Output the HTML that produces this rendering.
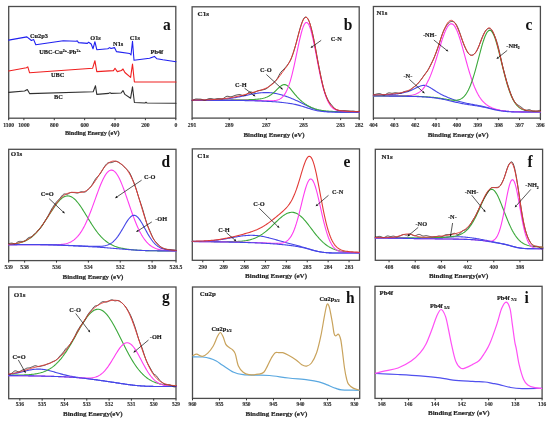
<!DOCTYPE html>
<html><head><meta charset="utf-8"><style>html,body{margin:0;padding:0;background:#fff;}svg{display:block;will-change:transform;filter:blur(0.3px);}text{font-family:"Liberation Serif",serif;font-weight:bold;}.h{stroke:#222;stroke-width:0.2px;}.t{stroke:#333;stroke-width:0.12px;}</style></head>
<body><svg width="550" height="421" viewBox="0 0 550 421">
<rect width="550" height="421" fill="#fff"/>
<rect x="8.70" y="6.50" width="167.10" height="111.70" fill="none" stroke="#4c4c4c" stroke-width="1.3"/>
<line x1="8.70" y1="118.20" x2="8.70" y2="120.20" stroke="#333" stroke-width="1.0"/>
<text x="8.70" y="126.80" text-anchor="middle" font-size="5.7" fill="#2a2a2a" class="t">1100</text>
<line x1="23.89" y1="118.20" x2="23.89" y2="120.20" stroke="#333" stroke-width="1.0"/>
<text x="23.89" y="126.80" text-anchor="middle" font-size="5.7" fill="#2a2a2a" class="t">1000</text>
<line x1="54.27" y1="118.20" x2="54.27" y2="120.20" stroke="#333" stroke-width="1.0"/>
<text x="54.27" y="126.80" text-anchor="middle" font-size="5.7" fill="#2a2a2a" class="t">800</text>
<line x1="84.65" y1="118.20" x2="84.65" y2="120.20" stroke="#333" stroke-width="1.0"/>
<text x="84.65" y="126.80" text-anchor="middle" font-size="5.7" fill="#2a2a2a" class="t">600</text>
<line x1="115.04" y1="118.20" x2="115.04" y2="120.20" stroke="#333" stroke-width="1.0"/>
<text x="115.04" y="126.80" text-anchor="middle" font-size="5.7" fill="#2a2a2a" class="t">400</text>
<line x1="145.42" y1="118.20" x2="145.42" y2="120.20" stroke="#333" stroke-width="1.0"/>
<text x="145.42" y="126.80" text-anchor="middle" font-size="5.7" fill="#2a2a2a" class="t">200</text>
<line x1="175.80" y1="118.20" x2="175.80" y2="120.20" stroke="#333" stroke-width="1.0"/>
<text x="175.80" y="126.80" text-anchor="middle" font-size="5.7" fill="#2a2a2a" class="t">0</text>
<text x="92.30" y="134.50" text-anchor="middle" font-size="6.4" textLength="54.8" lengthAdjust="spacingAndGlyphs" fill="#2a2a2a" class="h">Binding Energy (eV)</text>
<text transform="translate(162.90,29.80) scale(1,1.13)" font-size="15.5" fill="#111">a</text>
<rect x="192.10" y="6.80" width="167.10" height="111.30" fill="none" stroke="#4c4c4c" stroke-width="1.3"/>
<line x1="192.10" y1="118.10" x2="192.10" y2="120.10" stroke="#333" stroke-width="1.0"/>
<text x="192.10" y="126.70" text-anchor="middle" font-size="5.7" fill="#2a2a2a" class="t">291</text>
<line x1="229.23" y1="118.10" x2="229.23" y2="120.10" stroke="#333" stroke-width="1.0"/>
<text x="229.23" y="126.70" text-anchor="middle" font-size="5.7" fill="#2a2a2a" class="t">289</text>
<line x1="266.37" y1="118.10" x2="266.37" y2="120.10" stroke="#333" stroke-width="1.0"/>
<text x="266.37" y="126.70" text-anchor="middle" font-size="5.7" fill="#2a2a2a" class="t">287</text>
<line x1="303.50" y1="118.10" x2="303.50" y2="120.10" stroke="#333" stroke-width="1.0"/>
<text x="303.50" y="126.70" text-anchor="middle" font-size="5.7" fill="#2a2a2a" class="t">285</text>
<line x1="340.63" y1="118.10" x2="340.63" y2="120.10" stroke="#333" stroke-width="1.0"/>
<text x="340.63" y="126.70" text-anchor="middle" font-size="5.7" fill="#2a2a2a" class="t">283</text>
<line x1="359.20" y1="118.10" x2="359.20" y2="120.10" stroke="#333" stroke-width="1.0"/>
<text x="359.20" y="126.70" text-anchor="middle" font-size="5.7" fill="#2a2a2a" class="t">282</text>
<text x="274.00" y="136.90" text-anchor="middle" font-size="7" textLength="61" lengthAdjust="spacingAndGlyphs" fill="#2a2a2a" class="h">Binding Energy (eV)</text>
<text x="197.60" y="15.90" font-size="6.6" textLength="11.5" lengthAdjust="spacingAndGlyphs" fill="#1a1a1a" class="h">C1s</text>
<text transform="translate(343.70,29.90) scale(1,1.13)" font-size="15.5" fill="#111">b</text>
<rect x="373.40" y="6.50" width="167.00" height="111.60" fill="none" stroke="#4c4c4c" stroke-width="1.3"/>
<line x1="373.40" y1="118.10" x2="373.40" y2="120.10" stroke="#333" stroke-width="1.0"/>
<text x="373.40" y="126.70" text-anchor="middle" font-size="5.7" fill="#2a2a2a" class="t">404</text>
<line x1="394.27" y1="118.10" x2="394.27" y2="120.10" stroke="#333" stroke-width="1.0"/>
<text x="394.27" y="126.70" text-anchor="middle" font-size="5.7" fill="#2a2a2a" class="t">403</text>
<line x1="415.15" y1="118.10" x2="415.15" y2="120.10" stroke="#333" stroke-width="1.0"/>
<text x="415.15" y="126.70" text-anchor="middle" font-size="5.7" fill="#2a2a2a" class="t">402</text>
<line x1="436.02" y1="118.10" x2="436.02" y2="120.10" stroke="#333" stroke-width="1.0"/>
<text x="436.02" y="126.70" text-anchor="middle" font-size="5.7" fill="#2a2a2a" class="t">401</text>
<line x1="456.90" y1="118.10" x2="456.90" y2="120.10" stroke="#333" stroke-width="1.0"/>
<text x="456.90" y="126.70" text-anchor="middle" font-size="5.7" fill="#2a2a2a" class="t">400</text>
<line x1="477.77" y1="118.10" x2="477.77" y2="120.10" stroke="#333" stroke-width="1.0"/>
<text x="477.77" y="126.70" text-anchor="middle" font-size="5.7" fill="#2a2a2a" class="t">399</text>
<line x1="498.65" y1="118.10" x2="498.65" y2="120.10" stroke="#333" stroke-width="1.0"/>
<text x="498.65" y="126.70" text-anchor="middle" font-size="5.7" fill="#2a2a2a" class="t">398</text>
<line x1="519.52" y1="118.10" x2="519.52" y2="120.10" stroke="#333" stroke-width="1.0"/>
<text x="519.52" y="126.70" text-anchor="middle" font-size="5.7" fill="#2a2a2a" class="t">397</text>
<line x1="540.40" y1="118.10" x2="540.40" y2="120.10" stroke="#333" stroke-width="1.0"/>
<text x="540.40" y="126.70" text-anchor="middle" font-size="5.7" fill="#2a2a2a" class="t">396</text>
<text x="458.10" y="136.60" text-anchor="middle" font-size="7" textLength="60.7" lengthAdjust="spacingAndGlyphs" fill="#2a2a2a" class="h">Binding Energy (eV)</text>
<text x="376.50" y="15.20" font-size="6.6" textLength="10.8" lengthAdjust="spacingAndGlyphs" fill="#1a1a1a" class="h">N1s</text>
<text transform="translate(525.50,29.50) scale(1,1.13)" font-size="15.5" fill="#111">c</text>
<rect x="8.70" y="149.30" width="167.30" height="111.30" fill="none" stroke="#4c4c4c" stroke-width="1.3"/>
<line x1="8.70" y1="260.60" x2="8.70" y2="262.60" stroke="#333" stroke-width="1.0"/>
<text x="8.70" y="269.20" text-anchor="middle" font-size="5.7" fill="#2a2a2a" class="t">539</text>
<line x1="24.63" y1="260.60" x2="24.63" y2="262.60" stroke="#333" stroke-width="1.0"/>
<text x="24.63" y="269.20" text-anchor="middle" font-size="5.7" fill="#2a2a2a" class="t">538</text>
<line x1="56.50" y1="260.60" x2="56.50" y2="262.60" stroke="#333" stroke-width="1.0"/>
<text x="56.50" y="269.20" text-anchor="middle" font-size="5.7" fill="#2a2a2a" class="t">536</text>
<line x1="88.37" y1="260.60" x2="88.37" y2="262.60" stroke="#333" stroke-width="1.0"/>
<text x="88.37" y="269.20" text-anchor="middle" font-size="5.7" fill="#2a2a2a" class="t">534</text>
<line x1="120.23" y1="260.60" x2="120.23" y2="262.60" stroke="#333" stroke-width="1.0"/>
<text x="120.23" y="269.20" text-anchor="middle" font-size="5.7" fill="#2a2a2a" class="t">532</text>
<line x1="152.10" y1="260.60" x2="152.10" y2="262.60" stroke="#333" stroke-width="1.0"/>
<text x="152.10" y="269.20" text-anchor="middle" font-size="5.7" fill="#2a2a2a" class="t">530</text>
<line x1="176.00" y1="260.60" x2="176.00" y2="262.60" stroke="#333" stroke-width="1.0"/>
<text x="176.00" y="269.20" text-anchor="middle" font-size="5.7" fill="#2a2a2a" class="t">528.5</text>
<text x="93.00" y="278.90" text-anchor="middle" font-size="7" textLength="60.8" lengthAdjust="spacingAndGlyphs" fill="#2a2a2a" class="h">Binding Energy (eV)</text>
<text x="10.80" y="156.00" font-size="6.6" textLength="11.5" lengthAdjust="spacingAndGlyphs" fill="#1a1a1a" class="h">O1s</text>
<text transform="translate(161.60,166.80) scale(1,1.13)" font-size="15.5" fill="#111">d</text>
<rect x="192.30" y="148.90" width="167.20" height="111.40" fill="none" stroke="#4c4c4c" stroke-width="1.3"/>
<line x1="202.75" y1="260.30" x2="202.75" y2="262.30" stroke="#333" stroke-width="1.0"/>
<text x="202.75" y="268.90" text-anchor="middle" font-size="5.7" fill="#2a2a2a" class="t">290</text>
<line x1="223.65" y1="260.30" x2="223.65" y2="262.30" stroke="#333" stroke-width="1.0"/>
<text x="223.65" y="268.90" text-anchor="middle" font-size="5.7" fill="#2a2a2a" class="t">289</text>
<line x1="244.55" y1="260.30" x2="244.55" y2="262.30" stroke="#333" stroke-width="1.0"/>
<text x="244.55" y="268.90" text-anchor="middle" font-size="5.7" fill="#2a2a2a" class="t">288</text>
<line x1="265.45" y1="260.30" x2="265.45" y2="262.30" stroke="#333" stroke-width="1.0"/>
<text x="265.45" y="268.90" text-anchor="middle" font-size="5.7" fill="#2a2a2a" class="t">287</text>
<line x1="286.35" y1="260.30" x2="286.35" y2="262.30" stroke="#333" stroke-width="1.0"/>
<text x="286.35" y="268.90" text-anchor="middle" font-size="5.7" fill="#2a2a2a" class="t">286</text>
<line x1="307.25" y1="260.30" x2="307.25" y2="262.30" stroke="#333" stroke-width="1.0"/>
<text x="307.25" y="268.90" text-anchor="middle" font-size="5.7" fill="#2a2a2a" class="t">285</text>
<line x1="328.15" y1="260.30" x2="328.15" y2="262.30" stroke="#333" stroke-width="1.0"/>
<text x="328.15" y="268.90" text-anchor="middle" font-size="5.7" fill="#2a2a2a" class="t">284</text>
<line x1="349.05" y1="260.30" x2="349.05" y2="262.30" stroke="#333" stroke-width="1.0"/>
<text x="349.05" y="268.90" text-anchor="middle" font-size="5.7" fill="#2a2a2a" class="t">283</text>
<text x="276.00" y="277.90" text-anchor="middle" font-size="7" textLength="62" lengthAdjust="spacingAndGlyphs" fill="#2a2a2a" class="h">Binding Energy (eV)</text>
<text x="197.30" y="157.50" font-size="6.6" textLength="11.5" lengthAdjust="spacingAndGlyphs" fill="#1a1a1a" class="h">C1s</text>
<text transform="translate(343.40,166.90) scale(1,1.13)" font-size="15.5" fill="#111">e</text>
<rect x="375.30" y="149.30" width="167.30" height="111.00" fill="none" stroke="#4c4c4c" stroke-width="1.3"/>
<line x1="389.05" y1="260.30" x2="389.05" y2="262.30" stroke="#333" stroke-width="1.0"/>
<text x="389.05" y="268.90" text-anchor="middle" font-size="5.7" fill="#2a2a2a" class="t">408</text>
<line x1="415.23" y1="260.30" x2="415.23" y2="262.30" stroke="#333" stroke-width="1.0"/>
<text x="415.23" y="268.90" text-anchor="middle" font-size="5.7" fill="#2a2a2a" class="t">406</text>
<line x1="441.41" y1="260.30" x2="441.41" y2="262.30" stroke="#333" stroke-width="1.0"/>
<text x="441.41" y="268.90" text-anchor="middle" font-size="5.7" fill="#2a2a2a" class="t">404</text>
<line x1="467.59" y1="260.30" x2="467.59" y2="262.30" stroke="#333" stroke-width="1.0"/>
<text x="467.59" y="268.90" text-anchor="middle" font-size="5.7" fill="#2a2a2a" class="t">402</text>
<line x1="493.77" y1="260.30" x2="493.77" y2="262.30" stroke="#333" stroke-width="1.0"/>
<text x="493.77" y="268.90" text-anchor="middle" font-size="5.7" fill="#2a2a2a" class="t">400</text>
<line x1="519.95" y1="260.30" x2="519.95" y2="262.30" stroke="#333" stroke-width="1.0"/>
<text x="519.95" y="268.90" text-anchor="middle" font-size="5.7" fill="#2a2a2a" class="t">398</text>
<text x="458.70" y="277.90" text-anchor="middle" font-size="7" textLength="59.4" lengthAdjust="spacingAndGlyphs" fill="#2a2a2a" class="h">Binding Energy(eV)</text>
<text x="381.50" y="159.30" font-size="6.6" textLength="11.2" lengthAdjust="spacingAndGlyphs" fill="#1a1a1a" class="h">N1s</text>
<text transform="translate(527.40,166.80) scale(1,1.13)" font-size="15.5" fill="#111">f</text>
<rect x="8.70" y="287.00" width="167.30" height="111.70" fill="none" stroke="#4c4c4c" stroke-width="1.3"/>
<line x1="19.85" y1="398.70" x2="19.85" y2="400.70" stroke="#333" stroke-width="1.0"/>
<text x="19.85" y="406.30" text-anchor="middle" font-size="5.4" fill="#2a2a2a" class="t">536</text>
<line x1="42.16" y1="398.70" x2="42.16" y2="400.70" stroke="#333" stroke-width="1.0"/>
<text x="42.16" y="406.30" text-anchor="middle" font-size="5.4" fill="#2a2a2a" class="t">535</text>
<line x1="64.47" y1="398.70" x2="64.47" y2="400.70" stroke="#333" stroke-width="1.0"/>
<text x="64.47" y="406.30" text-anchor="middle" font-size="5.4" fill="#2a2a2a" class="t">534</text>
<line x1="86.77" y1="398.70" x2="86.77" y2="400.70" stroke="#333" stroke-width="1.0"/>
<text x="86.77" y="406.30" text-anchor="middle" font-size="5.4" fill="#2a2a2a" class="t">533</text>
<line x1="109.08" y1="398.70" x2="109.08" y2="400.70" stroke="#333" stroke-width="1.0"/>
<text x="109.08" y="406.30" text-anchor="middle" font-size="5.4" fill="#2a2a2a" class="t">532</text>
<line x1="131.39" y1="398.70" x2="131.39" y2="400.70" stroke="#333" stroke-width="1.0"/>
<text x="131.39" y="406.30" text-anchor="middle" font-size="5.4" fill="#2a2a2a" class="t">531</text>
<line x1="153.69" y1="398.70" x2="153.69" y2="400.70" stroke="#333" stroke-width="1.0"/>
<text x="153.69" y="406.30" text-anchor="middle" font-size="5.4" fill="#2a2a2a" class="t">530</text>
<line x1="176.00" y1="398.70" x2="176.00" y2="400.70" stroke="#333" stroke-width="1.0"/>
<text x="176.00" y="406.30" text-anchor="middle" font-size="5.4" fill="#2a2a2a" class="t">529</text>
<text x="92.80" y="415.90" text-anchor="middle" font-size="7" textLength="59.6" lengthAdjust="spacingAndGlyphs" fill="#2a2a2a" class="h">Binding Energy(eV)</text>
<text x="13.70" y="296.90" font-size="6.6" textLength="11.7" lengthAdjust="spacingAndGlyphs" fill="#1a1a1a" class="h">O1s</text>
<text transform="translate(162.00,301.50) scale(1,1.13)" font-size="15.5" fill="#111">g</text>
<rect x="192.50" y="287.00" width="167.20" height="111.40" fill="none" stroke="#4c4c4c" stroke-width="1.3"/>
<line x1="192.50" y1="398.40" x2="192.50" y2="400.40" stroke="#333" stroke-width="1.0"/>
<text x="192.50" y="406.00" text-anchor="middle" font-size="5.4" fill="#2a2a2a" class="t">960</text>
<line x1="219.50" y1="398.40" x2="219.50" y2="400.40" stroke="#333" stroke-width="1.0"/>
<text x="219.50" y="406.00" text-anchor="middle" font-size="5.4" fill="#2a2a2a" class="t">955</text>
<line x1="246.51" y1="398.40" x2="246.51" y2="400.40" stroke="#333" stroke-width="1.0"/>
<text x="246.51" y="406.00" text-anchor="middle" font-size="5.4" fill="#2a2a2a" class="t">950</text>
<line x1="273.51" y1="398.40" x2="273.51" y2="400.40" stroke="#333" stroke-width="1.0"/>
<text x="273.51" y="406.00" text-anchor="middle" font-size="5.4" fill="#2a2a2a" class="t">945</text>
<line x1="300.51" y1="398.40" x2="300.51" y2="400.40" stroke="#333" stroke-width="1.0"/>
<text x="300.51" y="406.00" text-anchor="middle" font-size="5.4" fill="#2a2a2a" class="t">940</text>
<line x1="327.51" y1="398.40" x2="327.51" y2="400.40" stroke="#333" stroke-width="1.0"/>
<text x="327.51" y="406.00" text-anchor="middle" font-size="5.4" fill="#2a2a2a" class="t">935</text>
<line x1="354.52" y1="398.40" x2="354.52" y2="400.40" stroke="#333" stroke-width="1.0"/>
<text x="354.52" y="406.00" text-anchor="middle" font-size="5.4" fill="#2a2a2a" class="t">930</text>
<text x="276.40" y="415.90" text-anchor="middle" font-size="7" textLength="61.8" lengthAdjust="spacingAndGlyphs" fill="#2a2a2a" class="h">Binding Energy (eV)</text>
<text x="199.80" y="295.80" font-size="6.6" textLength="16" lengthAdjust="spacingAndGlyphs" fill="#1a1a1a" class="h">Cu2p</text>
<text transform="translate(346.10,302.90) scale(1,1.13)" font-size="15.5" fill="#111">h</text>
<rect x="375.00" y="286.30" width="167.10" height="112.10" fill="none" stroke="#4c4c4c" stroke-width="1.3"/>
<line x1="381.68" y1="398.40" x2="381.68" y2="400.40" stroke="#333" stroke-width="1.0"/>
<text x="381.68" y="406.00" text-anchor="middle" font-size="5.4" fill="#2a2a2a" class="t">148</text>
<line x1="408.42" y1="398.40" x2="408.42" y2="400.40" stroke="#333" stroke-width="1.0"/>
<text x="408.42" y="406.00" text-anchor="middle" font-size="5.4" fill="#2a2a2a" class="t">146</text>
<line x1="435.16" y1="398.40" x2="435.16" y2="400.40" stroke="#333" stroke-width="1.0"/>
<text x="435.16" y="406.00" text-anchor="middle" font-size="5.4" fill="#2a2a2a" class="t">144</text>
<line x1="461.89" y1="398.40" x2="461.89" y2="400.40" stroke="#333" stroke-width="1.0"/>
<text x="461.89" y="406.00" text-anchor="middle" font-size="5.4" fill="#2a2a2a" class="t">142</text>
<line x1="488.63" y1="398.40" x2="488.63" y2="400.40" stroke="#333" stroke-width="1.0"/>
<text x="488.63" y="406.00" text-anchor="middle" font-size="5.4" fill="#2a2a2a" class="t">140</text>
<line x1="515.36" y1="398.40" x2="515.36" y2="400.40" stroke="#333" stroke-width="1.0"/>
<text x="515.36" y="406.00" text-anchor="middle" font-size="5.4" fill="#2a2a2a" class="t">138</text>
<line x1="542.10" y1="398.40" x2="542.10" y2="400.40" stroke="#333" stroke-width="1.0"/>
<text x="542.10" y="406.00" text-anchor="middle" font-size="5.4" fill="#2a2a2a" class="t">136</text>
<text x="458.75" y="414.70" text-anchor="middle" font-size="7" textLength="61.5" lengthAdjust="spacingAndGlyphs" fill="#2a2a2a" class="h">Binding Energy (eV)</text>
<text x="379.60" y="294.60" font-size="6.6" textLength="13.5" lengthAdjust="spacingAndGlyphs" fill="#1a1a1a" class="h">Pb4f</text>
<text transform="translate(524.50,302.90) scale(1,1.13)" font-size="15.5" fill="#111">i</text>
<polyline points="8.70,40.10 26.90,36.90 31.40,40.50 33.70,39.60 35.80,44.80 63.20,40.80 76.30,41.20 77.20,40.70 78.50,42.60 87.40,43.40 88.60,42.20 91.20,44.00 93.00,48.80 94.90,41.70 96.80,49.70 107.80,48.80 109.70,47.60 111.00,48.50 114.50,47.60 116.40,51.60 129.70,53.50 131.00,55.00 132.50,41.20 134.00,60.20 149.60,58.30 154.40,56.40 157.00,58.80 162.90,59.80 176.00,61.70" fill="none" stroke="#2020f0" stroke-width="1.1" stroke-linejoin="round" stroke-linecap="round"/>
<polyline points="8.70,71.00 26.40,67.80 27.80,66.90 29.60,72.80 92.60,68.30 94.90,60.70 96.80,71.60 113.50,70.60 115.00,68.30 117.30,71.60 121.50,70.50 123.00,69.00 124.90,72.50 130.60,77.30 132.50,64.00 134.40,82.00 176.00,82.00" fill="none" stroke="#f02020" stroke-width="1.1" stroke-linejoin="round" stroke-linecap="round"/>
<polyline points="8.70,92.40 24.60,91.00 27.30,89.50 29.60,93.60 93.20,91.80 95.50,85.80 96.80,94.40 108.80,93.40 110.00,92.60 111.00,93.40 121.10,93.00 123.00,90.60 124.90,94.40 130.60,98.20 132.50,86.80 134.40,102.50 145.00,103.00 146.00,102.30 147.00,103.00 176.00,103.30" fill="none" stroke="#303030" stroke-width="1.1" stroke-linejoin="round" stroke-linecap="round"/>
<text x="30.00" y="38.20" text-anchor="start" font-size="6.3" fill="#222" class="h">Cu2p3</text>
<text x="39.20" y="54.30" text-anchor="start" font-size="6.3" fill="#222" class="h">UBC-Cu<tspan dy="-2.2" font-size="4">2+</tspan><tspan dy="2.2">-Pb</tspan><tspan dy="-2.2" font-size="4">2+</tspan></text>
<text x="51.00" y="76.70" text-anchor="start" font-size="6.3" fill="#222" class="h">UBC</text>
<text x="54.00" y="99.30" text-anchor="start" font-size="6.3" fill="#222" class="h">BC</text>
<text x="90.30" y="40.10" text-anchor="start" font-size="6.3" fill="#222" class="h">O1s</text>
<text x="113.10" y="46.20" text-anchor="start" font-size="6.3" fill="#222" class="h">N1s</text>
<text x="129.70" y="39.60" text-anchor="start" font-size="6.3" fill="#222" class="h">C1s</text>
<text x="150.60" y="53.80" text-anchor="start" font-size="6.3" fill="#222" class="h">Pb4f</text>
<polyline points="192.10,100.38 193.10,100.37 194.10,100.36 195.10,100.36 196.10,100.35 197.10,100.34 198.10,100.32 199.10,100.31 200.10,100.30 201.10,100.28 202.10,100.27 203.10,100.25 204.10,100.23 205.10,100.21 206.10,100.19 207.10,100.16 208.10,100.14 209.10,100.11 210.10,100.07 211.10,100.04 212.10,100.00 213.10,99.95 214.10,99.91 215.10,99.86 216.10,99.80 217.10,99.74 218.10,99.68 219.10,99.61 220.10,99.53 221.10,99.45 222.10,99.36 223.10,99.27 224.10,99.17 225.10,99.06 226.10,98.95 227.10,98.83 228.10,98.70 229.10,98.57 230.10,98.43 231.10,98.28 232.10,98.12 233.10,97.96 234.10,97.79 235.10,97.62 236.10,97.44 237.10,97.25 238.10,97.06 239.10,96.86 240.10,96.66 241.10,96.45 242.10,96.24 243.10,96.03 244.10,95.81 245.10,95.60 246.10,95.38 247.10,95.17 248.10,94.95 249.10,94.74 250.10,94.54 251.10,94.33 252.10,94.14 253.10,93.95 254.10,93.77 255.10,93.59 256.10,93.43 257.10,93.28 258.10,93.14 259.10,93.02 260.10,92.90 261.10,92.81 262.10,92.73 263.10,92.66 264.10,92.61 265.10,92.59 266.10,92.57 267.10,92.58 268.10,92.61 269.10,92.66 270.10,92.72 271.10,92.81 272.10,92.91 273.10,93.04 274.10,93.19 275.10,93.36 276.10,93.54 277.10,93.75 278.10,93.97 279.10,94.21 280.10,94.48 281.10,94.75 282.10,95.05 283.10,95.36 284.10,95.68 285.10,96.01 286.10,96.36 287.10,96.72 288.10,97.09 289.10,97.47 290.10,97.86 291.10,98.25 292.10,98.66 293.10,99.08 294.10,99.50 295.10,99.94 296.10,100.39 297.10,100.85 298.10,101.31 299.10,101.79 300.10,102.28 301.10,102.77 302.10,103.27 303.10,103.77 304.10,104.28 305.10,104.78 306.10,105.28 307.10,105.78 308.10,106.26 309.10,106.74 310.10,107.19 311.10,107.63 312.10,108.05 313.10,108.45 314.10,108.82 315.10,109.17 316.10,109.49 317.10,109.79 318.10,110.06 319.10,110.31 320.10,110.53 321.10,110.73 322.10,110.91 323.10,111.07 324.10,111.21 325.10,111.33 326.10,111.44 327.10,111.53 328.10,111.62 329.10,111.69 330.10,111.75 331.10,111.81 332.10,111.85 333.10,111.90 334.10,111.93 335.10,111.96 336.10,111.99 337.10,112.02 338.10,112.04 339.10,112.06 340.10,112.08 341.10,112.10 342.10,112.11 343.10,112.13 344.10,112.14 345.10,112.15 346.10,112.16 347.10,112.18 348.10,112.19 349.10,112.20 350.10,112.20 351.10,112.21 352.10,112.22 353.10,112.23 354.10,112.24 355.10,112.25 356.10,112.25 357.10,112.26 358.10,112.27 359.10,112.28 359.35,112.28" fill="none" stroke="#4646e6" stroke-width="1.1" stroke-linejoin="round" stroke-linecap="round"/>
<polyline points="192.10,100.24 193.10,100.23 194.10,100.23 195.10,100.22 196.10,100.21 197.10,100.20 198.10,100.20 199.10,100.19 200.10,100.18 201.10,100.17 202.10,100.17 203.10,100.16 204.10,100.15 205.10,100.14 206.10,100.14 207.10,100.13 208.10,100.12 209.10,100.11 210.10,100.10 211.10,100.10 212.10,100.09 213.10,100.08 214.10,100.07 215.10,100.06 216.10,100.06 217.10,100.05 218.10,100.04 219.10,100.03 220.10,100.02 221.10,100.01 222.10,100.01 223.10,100.00 224.10,99.99 225.10,99.98 226.10,99.97 227.10,99.96 228.10,99.95 229.10,99.94 230.10,99.93 231.10,99.92 232.10,99.91 233.10,99.90 234.10,99.89 235.10,99.88 236.10,99.87 237.10,99.86 238.10,99.85 239.10,99.84 240.10,99.83 241.10,99.81 242.10,99.80 243.10,99.78 244.10,99.76 245.10,99.75 246.10,99.72 247.10,99.70 248.10,99.68 249.10,99.65 250.10,99.62 251.10,99.58 252.10,99.54 253.10,99.49 254.10,99.44 255.10,99.38 256.10,99.30 257.10,99.22 258.10,99.12 259.10,99.00 260.10,98.86 261.10,98.69 262.10,98.50 263.10,98.27 264.10,98.01 265.10,97.70 266.10,97.34 267.10,96.93 268.10,96.46 269.10,95.93 270.10,95.33 271.10,94.67 272.10,93.94 273.10,93.14 274.10,92.28 275.10,91.37 276.10,90.42 277.10,89.43 278.10,88.45 279.10,87.49 280.10,86.59 281.10,85.81 282.10,85.17 283.10,84.74 284.10,84.55 285.10,84.62 286.10,84.95 287.10,85.54 288.10,86.34 289.10,87.32 290.10,88.42 291.10,89.61 292.10,90.85 293.10,92.10 294.10,93.34 295.10,94.55 296.10,95.72 297.10,96.84 298.10,97.90 299.10,98.91 300.10,99.87 301.10,100.77 302.10,101.62 303.10,102.41 304.10,103.16 305.10,103.87 306.10,104.53 307.10,105.14 308.10,105.72 309.10,106.27 310.10,106.77 311.10,107.25 312.10,107.69 313.10,108.09 314.10,108.47 315.10,108.82 316.10,109.13 317.10,109.42 318.10,109.68 319.10,109.92 320.10,110.13 321.10,110.32 322.10,110.49 323.10,110.64 324.10,110.78 325.10,110.89 326.10,111.00 327.10,111.09 328.10,111.17 329.10,111.24 330.10,111.31 331.10,111.36 332.10,111.41 333.10,111.46 334.10,111.50 335.10,111.54 336.10,111.57 337.10,111.60 338.10,111.63 339.10,111.66 340.10,111.69 341.10,111.71 342.10,111.73 343.10,111.76 344.10,111.78 345.10,111.80 346.10,111.82 347.10,111.84 348.10,111.85 349.10,111.87 350.10,111.89 351.10,111.91 352.10,111.92 353.10,111.94 354.10,111.95 355.10,111.97 356.10,111.98 357.10,112.00 358.10,112.01 359.10,112.02 359.35,112.03" fill="none" stroke="#3aa83a" stroke-width="1.1" stroke-linejoin="round" stroke-linecap="round"/>
<polyline points="192.10,100.34 193.10,100.34 194.10,100.33 195.10,100.33 196.10,100.32 197.10,100.32 198.10,100.31 199.10,100.31 200.10,100.30 201.10,100.30 202.10,100.29 203.10,100.29 204.10,100.29 205.10,100.28 206.10,100.28 207.10,100.27 208.10,100.27 209.10,100.27 210.10,100.26 211.10,100.26 212.10,100.26 213.10,100.26 214.10,100.25 215.10,100.25 216.10,100.25 217.10,100.25 218.10,100.24 219.10,100.24 220.10,100.24 221.10,100.24 222.10,100.24 223.10,100.24 224.10,100.24 225.10,100.24 226.10,100.24 227.10,100.24 228.10,100.24 229.10,100.25 230.10,100.25 231.10,100.25 232.10,100.26 233.10,100.26 234.10,100.27 235.10,100.27 236.10,100.28 237.10,100.29 238.10,100.29 239.10,100.30 240.10,100.31 241.10,100.32 242.10,100.33 243.10,100.34 244.10,100.36 245.10,100.37 246.10,100.38 247.10,100.40 248.10,100.41 249.10,100.43 250.10,100.45 251.10,100.46 252.10,100.48 253.10,100.50 254.10,100.52 255.10,100.54 256.10,100.56 257.10,100.58 258.10,100.61 259.10,100.63 260.10,100.65 261.10,100.67 262.10,100.69 263.10,100.72 264.10,100.74 265.10,100.76 266.10,100.77 267.10,100.79 268.10,100.80 269.10,100.80 270.10,100.80 271.10,100.78 272.10,100.75 273.10,100.70 274.10,100.61 275.10,100.49 276.10,100.33 277.10,100.10 278.10,99.79 279.10,99.39 280.10,98.87 281.10,98.22 282.10,97.40 283.10,96.38 284.10,95.14 285.10,93.65 286.10,91.88 287.10,89.81 288.10,87.40 289.10,84.65 290.10,81.55 291.10,78.09 292.10,74.30 293.10,70.20 294.10,65.82 295.10,61.23 296.10,56.48 297.10,51.67 298.10,46.88 299.10,42.23 300.10,37.81 301.10,33.75 302.10,30.16 303.10,27.15 304.10,24.81 305.10,23.23 306.10,22.46 307.10,22.56 308.10,23.51 309.10,25.29 310.10,27.86 311.10,31.14 312.10,35.02 313.10,39.41 314.10,44.19 315.10,49.24 316.10,54.45 317.10,59.71 318.10,64.92 319.10,69.99 320.10,74.85 321.10,79.43 322.10,83.70 323.10,87.62 324.10,91.16 325.10,94.34 326.10,97.15 327.10,99.60 328.10,101.72 329.10,103.53 330.10,105.06 331.10,106.34 332.10,107.40 333.10,108.27 334.10,108.98 335.10,109.55 336.10,110.01 337.10,110.38 338.10,110.67 339.10,110.90 340.10,111.08 341.10,111.22 342.10,111.34 343.10,111.43 344.10,111.51 345.10,111.57 346.10,111.62 347.10,111.67 348.10,111.71 349.10,111.74 350.10,111.77 351.10,111.80 352.10,111.83 353.10,111.85 354.10,111.87 355.10,111.89 356.10,111.92 357.10,111.94 358.10,111.95 359.10,111.97 359.35,111.98" fill="none" stroke="#ff3cf0" stroke-width="1.1" stroke-linejoin="round" stroke-linecap="round"/>
<polyline points="192.10,100.41 193.10,100.40 194.10,100.40 195.10,100.40 196.10,100.39 197.10,100.39 198.10,100.39 199.10,100.38 200.10,100.38 201.10,100.38 202.10,100.37 203.10,100.37 204.10,100.37 205.10,100.37 206.10,100.36 207.10,100.36 208.10,100.36 209.10,100.36 210.10,100.36 211.10,100.36 212.10,100.35 213.10,100.35 214.10,100.35 215.10,100.35 216.10,100.35 217.10,100.35 218.10,100.35 219.10,100.35 220.10,100.36 221.10,100.36 222.10,100.36 223.10,100.36 224.10,100.37 225.10,100.37 226.10,100.37 227.10,100.38 228.10,100.38 229.10,100.39 230.10,100.40 231.10,100.40 232.10,100.41 233.10,100.42 234.10,100.43 235.10,100.44 236.10,100.45 237.10,100.46 238.10,100.48 239.10,100.49 240.10,100.50 241.10,100.52 242.10,100.54 243.10,100.55 244.10,100.57 245.10,100.59 246.10,100.61 247.10,100.64 248.10,100.66 249.10,100.68 250.10,100.71 251.10,100.74 252.10,100.76 253.10,100.79 254.10,100.82 255.10,100.85 256.10,100.89 257.10,100.92 258.10,100.96 259.10,100.99 260.10,101.03 261.10,101.07 262.10,101.11 263.10,101.15 264.10,101.19 265.10,101.24 266.10,101.28 267.10,101.33 268.10,101.38 269.10,101.44 270.10,101.49 271.10,101.55 272.10,101.61 273.10,101.68 274.10,101.74 275.10,101.82 276.10,101.89 277.10,101.97 278.10,102.06 279.10,102.15 280.10,102.24 281.10,102.34 282.10,102.45 283.10,102.56 284.10,102.68 285.10,102.80 286.10,102.93 287.10,103.06 288.10,103.20 289.10,103.35 290.10,103.50 291.10,103.66 292.10,103.83 293.10,104.01 294.10,104.20 295.10,104.41 296.10,104.62 297.10,104.86 298.10,105.10 299.10,105.36 300.10,105.64 301.10,105.93 302.10,106.23 303.10,106.54 304.10,106.87 305.10,107.19 306.10,107.53 307.10,107.86 308.10,108.19 309.10,108.52 310.10,108.84 311.10,109.15 312.10,109.44 313.10,109.72 314.10,109.99 315.10,110.24 316.10,110.46 317.10,110.67 318.10,110.86 319.10,111.04 320.10,111.19 321.10,111.32 322.10,111.44 323.10,111.55 324.10,111.64 325.10,111.72 326.10,111.79 327.10,111.84 328.10,111.89 329.10,111.93 330.10,111.97 331.10,112.00 332.10,112.02 333.10,112.05 334.10,112.06 335.10,112.08 336.10,112.09 337.10,112.11 338.10,112.12 339.10,112.13 340.10,112.14 341.10,112.15 342.10,112.16 343.10,112.17 344.10,112.17 345.10,112.18 346.10,112.19 347.10,112.20 348.10,112.20 349.10,112.21 350.10,112.22 351.10,112.22 352.10,112.23 353.10,112.24 354.10,112.25 355.10,112.25 356.10,112.26 357.10,112.27 358.10,112.27 359.10,112.28 359.35,112.28" fill="none" stroke="#4646e6" stroke-width="1.1" stroke-linejoin="round" stroke-linecap="round"/>
<polyline points="192.10,100.42 193.10,100.13 194.10,99.62 195.10,99.18 196.10,99.00 197.10,99.02 198.10,99.09 199.10,99.11 200.10,99.12 201.10,99.22 202.10,99.54 203.10,99.99 204.10,100.34 205.10,100.32 206.10,99.93 207.10,99.37 208.10,98.91 209.10,98.67 210.10,98.59 211.10,98.61 212.10,98.76 213.10,99.01 214.10,99.16 215.10,99.08 216.10,98.84 217.10,98.66 218.10,98.59 219.10,98.58 220.10,98.64 221.10,98.79 222.10,98.85 223.10,98.60 224.10,97.98 225.10,97.20 226.10,96.56 227.10,96.25 228.10,96.32 229.10,96.60 230.10,96.81 231.10,96.78 232.10,96.53 233.10,96.18 234.10,95.79 235.10,95.40 236.10,95.11 237.10,94.90 238.10,94.72 239.10,94.58 240.10,94.62 241.10,94.93 242.10,95.38 243.10,95.71 244.10,95.74 245.10,95.40 246.10,94.73 247.10,93.85 248.10,92.95 249.10,92.24 250.10,91.90 251.10,91.99 252.10,92.32 253.10,92.56 254.10,92.50 255.10,92.13 256.10,91.58 257.10,91.04 258.10,90.65 259.10,90.44 260.10,90.36 261.10,90.23 262.10,90.00 263.10,89.75 264.10,89.54 265.10,89.28 266.10,88.84 267.10,88.18 268.10,87.33 269.10,86.41 270.10,85.50 271.10,84.67 272.10,83.87 273.10,83.07 274.10,82.22 275.10,81.30 276.10,80.23 277.10,78.86 278.10,77.12 279.10,75.18 280.10,73.40 281.10,72.00 282.10,70.89 283.10,69.89 284.10,68.87 285.10,67.80 286.10,66.67 287.10,65.42 288.10,64.06 289.10,62.59 290.10,60.93 291.10,58.90 292.10,56.33 293.10,53.37 294.10,50.23 295.10,46.96 296.10,43.41 297.10,39.55 298.10,35.59 299.10,31.79 300.10,28.26 301.10,25.01 302.10,22.10 303.10,19.73 304.10,18.06 305.10,17.17 306.10,17.08 307.10,17.78 308.10,19.22 309.10,21.34 310.10,24.13 311.10,27.54 312.10,31.44 313.10,35.77 314.10,40.52 315.10,45.73 316.10,51.30 317.10,56.95 318.10,62.41 319.10,67.59 320.10,72.57 321.10,77.45 322.10,82.18 323.10,86.50 324.10,90.18 325.10,93.23 326.10,95.83 327.10,98.14 328.10,100.15 329.10,101.80 330.10,103.12 331.10,104.30 332.10,105.54 333.10,106.83 334.10,107.99 335.10,108.87 336.10,109.47 337.10,109.91 338.10,110.25 339.10,110.50 340.10,110.65 341.10,110.68 342.10,110.63 343.10,110.57 344.10,110.56 345.10,110.62 346.10,110.72 347.10,110.80 348.10,110.86 349.10,110.96 350.10,111.06 351.10,111.10 352.10,111.06 353.10,111.04 354.10,111.16 355.10,111.39 356.10,111.57 357.10,111.55 358.10,111.40 359.10,111.27 359.35,111.20" fill="none" stroke="#2a2020" stroke-width="0.8" stroke-linejoin="round" stroke-linecap="round"/>
<polyline points="192.10,100.15 193.10,100.14 194.10,100.12 195.10,100.11 196.10,100.10 197.10,100.08 198.10,100.06 199.10,100.04 200.10,100.03 201.10,100.01 202.10,99.98 203.10,99.96 204.10,99.93 205.10,99.91 206.10,99.88 207.10,99.84 208.10,99.81 209.10,99.77 210.10,99.73 211.10,99.68 212.10,99.63 213.10,99.58 214.10,99.53 215.10,99.46 216.10,99.40 217.10,99.33 218.10,99.25 219.10,99.17 220.10,99.08 221.10,98.99 222.10,98.89 223.10,98.78 224.10,98.67 225.10,98.54 226.10,98.41 227.10,98.28 228.10,98.13 229.10,97.98 230.10,97.82 231.10,97.65 232.10,97.47 233.10,97.29 234.10,97.10 235.10,96.90 236.10,96.69 237.10,96.47 238.10,96.25 239.10,96.02 240.10,95.79 241.10,95.54 242.10,95.30 243.10,95.04 244.10,94.79 245.10,94.53 246.10,94.26 247.10,94.00 248.10,93.73 249.10,93.45 250.10,93.18 251.10,92.91 252.10,92.64 253.10,92.36 254.10,92.08 255.10,91.81 256.10,91.53 257.10,91.24 258.10,90.96 259.10,90.66 260.10,90.36 261.10,90.04 262.10,89.70 263.10,89.35 264.10,88.97 265.10,88.56 266.10,88.12 267.10,87.63 268.10,87.10 269.10,86.51 270.10,85.87 271.10,85.16 272.10,84.38 273.10,83.53 274.10,82.60 275.10,81.59 276.10,80.50 277.10,79.33 278.10,78.10 279.10,76.80 280.10,75.46 281.10,74.09 282.10,72.72 283.10,71.35 284.10,70.01 285.10,68.68 286.10,67.34 287.10,65.94 288.10,64.43 289.10,62.74 290.10,60.83 291.10,58.64 292.10,56.15 293.10,53.35 294.10,50.25 295.10,46.90 296.10,43.34 297.10,39.64 298.10,35.89 299.10,32.20 300.10,28.68 301.10,25.43 302.10,22.59 303.10,20.25 304.10,18.52 305.10,17.49 306.10,17.22 307.10,17.76 308.10,19.11 309.10,21.26 310.10,24.15 311.10,27.72 312.10,31.88 313.10,36.51 314.10,41.50 315.10,46.76 316.10,52.15 317.10,57.57 318.10,62.93 319.10,68.14 320.10,73.13 321.10,77.83 322.10,82.21 323.10,86.23 324.10,89.87 325.10,93.13 326.10,96.01 327.10,98.54 328.10,100.72 329.10,102.59 330.10,104.18 331.10,105.51 332.10,106.62 333.10,107.53 334.10,108.28 335.10,108.89 336.10,109.39 337.10,109.78 338.10,110.10 339.10,110.36 340.10,110.57 341.10,110.74 342.10,110.87 343.10,110.99 344.10,111.08 345.10,111.16 346.10,111.23 347.10,111.29 348.10,111.34 349.10,111.39 350.10,111.43 351.10,111.47 352.10,111.51 353.10,111.54 354.10,111.57 355.10,111.60 356.10,111.63 357.10,111.66 358.10,111.69 359.10,111.71 359.35,111.72" fill="none" stroke="#e23a36" stroke-width="1.0" stroke-linejoin="round" stroke-linecap="round"/>
<text x="235.00" y="86.50" text-anchor="start" font-size="6.3" fill="#222" class="h">C-H</text>
<line x1="244.50" y1="88.20" x2="253.42" y2="94.85" stroke="#111" stroke-width="0.7"/>
<polygon points="255.50,96.40 252.76,95.72 254.07,93.97" fill="#111"/>
<text x="260.00" y="72.40" text-anchor="start" font-size="6.3" fill="#222" class="h">C-O</text>
<line x1="266.40" y1="74.50" x2="281.09" y2="88.04" stroke="#111" stroke-width="0.7"/>
<polygon points="283.00,89.80 280.35,88.84 281.83,87.23" fill="#111"/>
<text x="330.70" y="40.50" text-anchor="start" font-size="6.3" fill="#222" class="h">C-N</text>
<line x1="321.20" y1="40.30" x2="312.61" y2="46.48" stroke="#111" stroke-width="0.7"/>
<polygon points="310.50,48.00 311.97,45.59 313.25,47.37" fill="#111"/>
<polyline points="373.40,95.17 374.40,95.15 375.40,95.13 376.40,95.11 377.40,95.09 378.40,95.06 379.40,95.03 380.40,95.00 381.40,94.97 382.40,94.94 383.40,94.90 384.40,94.86 385.40,94.81 386.40,94.76 387.40,94.71 388.40,94.65 389.40,94.59 390.40,94.52 391.40,94.45 392.40,94.37 393.40,94.28 394.40,94.19 395.40,94.09 396.40,93.97 397.40,93.85 398.40,93.71 399.40,93.56 400.40,93.40 401.40,93.22 402.40,93.03 403.40,92.81 404.40,92.58 405.40,92.33 406.40,92.05 407.40,91.74 408.40,91.41 409.40,91.05 410.40,90.67 411.40,90.25 412.40,89.81 413.40,89.34 414.40,88.86 415.40,88.35 416.40,87.84 417.40,87.34 418.40,86.85 419.40,86.40 420.40,86.01 421.40,85.70 422.40,85.48 423.40,85.37 424.40,85.39 425.40,85.52 426.40,85.78 427.40,86.15 428.40,86.61 429.40,87.15 430.40,87.74 431.40,88.37 432.40,89.02 433.40,89.68 434.40,90.33 435.40,90.98 436.40,91.60 437.40,92.21 438.40,92.80 439.40,93.36 440.40,93.91 441.40,94.44 442.40,94.94 443.40,95.43 444.40,95.91 445.40,96.37 446.40,96.82 447.40,97.25 448.40,97.67 449.40,98.08 450.40,98.48 451.40,98.86 452.40,99.24 453.40,99.60 454.40,99.96 455.40,100.30 456.40,100.62 457.40,100.94 458.40,101.24 459.40,101.53 460.40,101.81 461.40,102.08 462.40,102.33 463.40,102.58 464.40,102.81 465.40,103.03 466.40,103.24 467.40,103.45 468.40,103.64 469.40,103.83 470.40,104.02 471.40,104.20 472.40,104.38 473.40,104.56 474.40,104.74 475.40,104.92 476.40,105.10 477.40,105.29 478.40,105.49 479.40,105.68 480.40,105.89 481.40,106.10 482.40,106.32 483.40,106.55 484.40,106.78 485.40,107.02 486.40,107.26 487.40,107.51 488.40,107.76 489.40,108.01 490.40,108.26 491.40,108.51 492.40,108.75 493.40,108.99 494.40,109.23 495.40,109.45 496.40,109.67 497.40,109.88 498.40,110.07 499.40,110.26 500.40,110.43 501.40,110.59 502.40,110.74 503.40,110.88 504.40,111.00 505.40,111.11 506.40,111.21 507.40,111.30 508.40,111.38 509.40,111.46 510.40,111.52 511.40,111.57 512.40,111.62 513.40,111.66 514.40,111.70 515.40,111.73 516.40,111.75 517.40,111.77 518.40,111.79 519.40,111.81 520.40,111.82 521.40,111.83 522.40,111.84 523.40,111.85 524.40,111.85 525.40,111.86 526.40,111.86 527.40,111.87 528.40,111.87 529.40,111.87 530.40,111.87 531.40,111.88 532.40,111.88 533.40,111.88 534.40,111.88 535.40,111.88 536.40,111.88 537.40,111.88 538.40,111.87 539.40,111.87 540.40,111.87" fill="none" stroke="#4646e6" stroke-width="1.1" stroke-linejoin="round" stroke-linecap="round"/>
<polyline points="373.40,95.78 374.40,95.78 375.40,95.79 376.40,95.79 377.40,95.80 378.40,95.80 379.40,95.81 380.40,95.81 381.40,95.82 382.40,95.82 383.40,95.83 384.40,95.83 385.40,95.84 386.40,95.84 387.40,95.84 388.40,95.85 389.40,95.85 390.40,95.86 391.40,95.86 392.40,95.86 393.40,95.86 394.40,95.86 395.40,95.86 396.40,95.86 397.40,95.86 398.40,95.86 399.40,95.85 400.40,95.84 401.40,95.83 402.40,95.82 403.40,95.79 404.40,95.77 405.40,95.73 406.40,95.68 407.40,95.62 408.40,95.54 409.40,95.45 410.40,95.33 411.40,95.18 412.40,95.00 413.40,94.77 414.40,94.50 415.40,94.18 416.40,93.79 417.40,93.33 418.40,92.79 419.40,92.15 420.40,91.41 421.40,90.55 422.40,89.57 423.40,88.44 424.40,87.17 425.40,85.73 426.40,84.12 427.40,82.33 428.40,80.37 429.40,78.21 430.40,75.88 431.40,73.36 432.40,70.67 433.40,67.82 434.40,64.82 435.40,61.70 436.40,58.48 437.40,55.19 438.40,51.86 439.40,48.53 440.40,45.24 441.40,42.03 442.40,38.95 443.40,36.03 444.40,33.33 445.40,30.89 446.40,28.74 447.40,26.94 448.40,25.51 449.40,24.48 450.40,23.87 451.40,23.70 452.40,23.98 453.40,24.70 454.40,25.85 455.40,27.42 456.40,29.38 457.40,31.69 458.40,34.33 459.40,37.24 460.40,40.39 461.40,43.73 462.40,47.22 463.40,50.81 464.40,54.46 465.40,58.12 466.40,61.76 467.40,65.34 468.40,68.84 469.40,72.22 470.40,75.45 471.40,78.54 472.40,81.45 473.40,84.18 474.40,86.73 475.40,89.09 476.40,91.27 477.40,93.27 478.40,95.09 479.40,96.74 480.40,98.24 481.40,99.60 482.40,100.82 483.40,101.91 484.40,102.90 485.40,103.79 486.40,104.58 487.40,105.30 488.40,105.95 489.40,106.53 490.40,107.06 491.40,107.54 492.40,107.98 493.40,108.37 494.40,108.73 495.40,109.06 496.40,109.37 497.40,109.64 498.40,109.89 499.40,110.12 500.40,110.33 501.40,110.51 502.40,110.69 503.40,110.84 504.40,110.98 505.40,111.10 506.40,111.21 507.40,111.31 508.40,111.39 509.40,111.47 510.40,111.53 511.40,111.59 512.40,111.64 513.40,111.68 514.40,111.72 515.40,111.75 516.40,111.78 517.40,111.80 518.40,111.82 519.40,111.84 520.40,111.85 521.40,111.86 522.40,111.87 523.40,111.88 524.40,111.89 525.40,111.89 526.40,111.90 527.40,111.90 528.40,111.91 529.40,111.91 530.40,111.91 531.40,111.91 532.40,111.91 533.40,111.91 534.40,111.91 535.40,111.91 536.40,111.91 537.40,111.91 538.40,111.91 539.40,111.91 540.40,111.91" fill="none" stroke="#ff3cf0" stroke-width="1.1" stroke-linejoin="round" stroke-linecap="round"/>
<polyline points="373.40,95.83 374.40,95.84 375.40,95.84 376.40,95.85 377.40,95.86 378.40,95.87 379.40,95.88 380.40,95.88 381.40,95.89 382.40,95.90 383.40,95.91 384.40,95.91 385.40,95.92 386.40,95.93 387.40,95.94 388.40,95.95 389.40,95.95 390.40,95.96 391.40,95.97 392.40,95.98 393.40,95.99 394.40,96.00 395.40,96.01 396.40,96.01 397.40,96.02 398.40,96.03 399.40,96.04 400.40,96.05 401.40,96.07 402.40,96.08 403.40,96.09 404.40,96.10 405.40,96.11 406.40,96.13 407.40,96.14 408.40,96.16 409.40,96.18 410.40,96.20 411.40,96.22 412.40,96.24 413.40,96.26 414.40,96.29 415.40,96.31 416.40,96.35 417.40,96.38 418.40,96.41 419.40,96.45 420.40,96.49 421.40,96.54 422.40,96.59 423.40,96.64 424.40,96.70 425.40,96.76 426.40,96.82 427.40,96.89 428.40,96.96 429.40,97.04 430.40,97.12 431.40,97.21 432.40,97.30 433.40,97.40 434.40,97.51 435.40,97.62 436.40,97.74 437.40,97.87 438.40,98.00 439.40,98.14 440.40,98.29 441.40,98.45 442.40,98.62 443.40,98.79 444.40,98.96 445.40,99.14 446.40,99.31 447.40,99.49 448.40,99.66 449.40,99.82 450.40,99.97 451.40,100.10 452.40,100.21 453.40,100.29 454.40,100.33 455.40,100.32 456.40,100.26 457.40,100.13 458.40,99.91 459.40,99.61 460.40,99.19 461.40,98.64 462.40,97.96 463.40,97.11 464.40,96.09 465.40,94.88 466.40,93.45 467.40,91.81 468.40,89.93 469.40,87.81 470.40,85.43 471.40,82.82 472.40,79.96 473.40,76.87 474.40,73.57 475.40,70.09 476.40,66.46 477.40,62.71 478.40,58.91 479.40,55.09 480.40,51.32 481.40,47.66 482.40,44.18 483.40,40.95 484.40,38.04 485.40,35.50 486.40,33.41 487.40,31.82 488.40,30.77 489.40,30.29 490.40,30.40 491.40,31.10 492.40,32.39 493.40,34.22 494.40,36.56 495.40,39.35 496.40,42.53 497.40,46.05 498.40,49.82 499.40,53.78 500.40,57.86 501.40,62.00 502.40,66.13 503.40,70.20 504.40,74.16 505.40,77.97 506.40,81.59 507.40,85.00 508.40,88.18 509.40,91.11 510.40,93.79 511.40,96.22 512.40,98.39 513.40,100.33 514.40,102.04 515.40,103.53 516.40,104.83 517.40,105.94 518.40,106.89 519.40,107.70 520.40,108.39 521.40,108.96 522.40,109.43 523.40,109.82 524.40,110.15 525.40,110.41 526.40,110.63 527.40,110.80 528.40,110.95 529.40,111.06 530.40,111.16 531.40,111.23 532.40,111.30 533.40,111.35 534.40,111.39 535.40,111.43 536.40,111.46 537.40,111.48 538.40,111.51 539.40,111.53 540.40,111.54" fill="none" stroke="#3aa83a" stroke-width="1.1" stroke-linejoin="round" stroke-linecap="round"/>
<polyline points="373.40,95.92 374.40,95.93 375.40,95.94 376.40,95.95 377.40,95.96 378.40,95.97 379.40,95.98 380.40,95.99 381.40,96.00 382.40,96.01 383.40,96.02 384.40,96.03 385.40,96.04 386.40,96.05 387.40,96.06 388.40,96.07 389.40,96.08 390.40,96.09 391.40,96.10 392.40,96.11 393.40,96.12 394.40,96.13 395.40,96.15 396.40,96.16 397.40,96.17 398.40,96.18 399.40,96.20 400.40,96.21 401.40,96.23 402.40,96.24 403.40,96.26 404.40,96.27 405.40,96.29 406.40,96.31 407.40,96.33 408.40,96.35 409.40,96.37 410.40,96.39 411.40,96.42 412.40,96.45 413.40,96.47 414.40,96.50 415.40,96.54 416.40,96.57 417.40,96.61 418.40,96.66 419.40,96.70 420.40,96.75 421.40,96.80 422.40,96.86 423.40,96.92 424.40,96.98 425.40,97.05 426.40,97.13 427.40,97.20 428.40,97.29 429.40,97.37 430.40,97.47 431.40,97.56 432.40,97.67 433.40,97.78 434.40,97.90 435.40,98.03 436.40,98.16 437.40,98.30 438.40,98.46 439.40,98.62 440.40,98.79 441.40,98.97 442.40,99.16 443.40,99.35 444.40,99.56 445.40,99.77 446.40,99.99 447.40,100.22 448.40,100.45 449.40,100.69 450.40,100.92 451.40,101.16 452.40,101.41 453.40,101.65 454.40,101.88 455.40,102.12 456.40,102.35 457.40,102.58 458.40,102.80 459.40,103.01 460.40,103.22 461.40,103.42 462.40,103.61 463.40,103.80 464.40,103.97 465.40,104.14 466.40,104.31 467.40,104.47 468.40,104.62 469.40,104.77 470.40,104.92 471.40,105.07 472.40,105.22 473.40,105.36 474.40,105.51 475.40,105.67 476.40,105.82 477.40,105.99 478.40,106.16 479.40,106.33 480.40,106.52 481.40,106.71 482.40,106.91 483.40,107.11 484.40,107.33 485.40,107.55 486.40,107.78 487.40,108.01 488.40,108.24 489.40,108.48 490.40,108.72 491.40,108.95 492.40,109.19 493.40,109.41 494.40,109.64 495.40,109.85 496.40,110.06 497.40,110.26 498.40,110.44 499.40,110.62 500.40,110.78 501.40,110.93 502.40,111.07 503.40,111.20 504.40,111.32 505.40,111.42 506.40,111.52 507.40,111.60 508.40,111.67 509.40,111.74 510.40,111.79 511.40,111.84 512.40,111.88 513.40,111.92 514.40,111.95 515.40,111.97 516.40,111.99 517.40,112.01 518.40,112.02 519.40,112.03 520.40,112.04 521.40,112.05 522.40,112.05 523.40,112.06 524.40,112.06 525.40,112.06 526.40,112.06 527.40,112.06 528.40,112.06 529.40,112.06 530.40,112.06 531.40,112.05 532.40,112.05 533.40,112.05 534.40,112.05 535.40,112.04 536.40,112.04 537.40,112.04 538.40,112.03 539.40,112.03 540.40,112.02" fill="none" stroke="#4646e6" stroke-width="1.1" stroke-linejoin="round" stroke-linecap="round"/>
<polyline points="373.40,94.76 374.40,94.62 375.40,94.37 376.40,94.07 377.40,93.80 378.40,93.59 379.40,93.54 380.40,93.75 381.40,94.20 382.40,94.71 383.40,95.03 384.40,95.01 385.40,94.62 386.40,94.01 387.40,93.39 388.40,92.98 389.40,92.88 390.40,93.04 391.40,93.24 392.40,93.26 393.40,93.07 394.40,92.82 395.40,92.70 396.40,92.77 397.40,92.95 398.40,93.13 399.40,93.25 400.40,93.23 401.40,92.96 402.40,92.47 403.40,91.94 404.40,91.54 405.40,91.32 406.40,91.21 407.40,91.12 408.40,90.94 409.40,90.55 410.40,89.90 411.40,89.04 412.40,88.15 413.40,87.34 414.40,86.66 415.40,86.00 416.40,85.21 417.40,84.23 418.40,83.09 419.40,81.87 420.40,80.58 421.40,79.20 422.40,77.73 423.40,76.23 424.40,74.80 425.40,73.49 426.40,72.25 427.40,70.91 428.40,69.28 429.40,67.34 430.40,65.28 431.40,63.28 432.40,61.33 433.40,59.28 434.40,57.02 435.40,54.55 436.40,51.97 437.40,49.31 438.40,46.44 439.40,43.29 440.40,39.97 441.40,36.72 442.40,33.76 443.40,31.27 444.40,29.22 445.40,27.47 446.40,25.85 447.40,24.37 448.40,23.16 449.40,22.30 450.40,21.77 451.40,21.52 452.40,21.50 453.40,21.72 454.40,22.23 455.40,23.18 456.40,24.67 457.40,26.65 458.40,29.00 459.40,31.64 460.40,34.55 461.40,37.64 462.40,40.69 463.40,43.48 464.40,45.95 465.40,48.18 466.40,50.22 467.40,52.01 468.40,53.44 469.40,54.43 470.40,54.98 471.40,55.16 472.40,55.00 473.40,54.56 474.40,53.84 475.40,52.82 476.40,51.44 477.40,49.63 478.40,47.39 479.40,44.81 480.40,42.04 481.40,39.30 482.40,36.78 483.40,34.55 484.40,32.62 485.40,31.00 486.40,29.76 487.40,28.99 488.40,28.63 489.40,28.59 490.40,28.88 491.40,29.70 492.40,31.16 493.40,33.11 494.40,35.31 495.40,37.71 496.40,40.46 497.40,43.69 498.40,47.43 499.40,51.61 500.40,56.10 501.40,60.68 502.40,65.09 503.40,69.16 504.40,72.95 505.40,76.62 506.40,80.24 507.40,83.67 508.40,86.81 509.40,89.75 510.40,92.58 511.40,95.29 512.40,97.77 513.40,99.88 514.40,101.56 515.40,102.83 516.40,103.82 517.40,104.62 518.40,105.30 519.40,105.93 520.40,106.58 521.40,107.29 522.40,108.10 523.40,108.96 524.40,109.74 525.40,110.23 526.40,110.31 527.40,110.05 528.40,109.74 529.40,109.69 530.40,110.00 531.40,110.50 532.40,110.89 533.40,111.06 534.40,111.06 535.40,111.02 536.40,110.99 537.40,110.87 538.40,110.62 539.40,110.41 540.40,110.40" fill="none" stroke="#2a2020" stroke-width="0.8" stroke-linejoin="round" stroke-linecap="round"/>
<polyline points="373.40,94.93 374.40,94.91 375.40,94.88 376.40,94.86 377.40,94.83 378.40,94.79 379.40,94.76 380.40,94.72 381.40,94.68 382.40,94.64 383.40,94.60 384.40,94.55 385.40,94.49 386.40,94.44 387.40,94.38 388.40,94.31 389.40,94.24 390.40,94.16 391.40,94.08 392.40,93.99 393.40,93.89 394.40,93.78 395.40,93.66 396.40,93.53 397.40,93.39 398.40,93.24 399.40,93.07 400.40,92.88 401.40,92.67 402.40,92.44 403.40,92.19 404.40,91.90 405.40,91.59 406.40,91.24 407.40,90.85 408.40,90.42 409.40,89.94 410.40,89.40 411.40,88.81 412.40,88.16 413.40,87.43 414.40,86.64 415.40,85.77 416.40,84.83 417.40,83.82 418.40,82.74 419.40,81.61 420.40,80.42 421.40,79.19 422.40,77.92 423.40,76.62 424.40,75.28 425.40,73.90 426.40,72.47 427.40,70.97 428.40,69.37 429.40,67.66 430.40,65.81 431.40,63.81 432.40,61.65 433.40,59.34 434.40,56.86 435.40,54.24 436.40,51.50 437.40,48.66 438.40,45.75 439.40,42.81 440.40,39.87 441.40,36.98 442.40,34.19 443.40,31.54 444.40,29.08 445.40,26.84 446.40,24.88 447.40,23.24 448.40,21.93 449.40,21.01 450.40,20.47 451.40,20.34 452.40,20.62 453.40,21.30 454.40,22.37 455.40,23.80 456.40,25.56 457.40,27.61 458.40,29.89 459.40,32.36 460.40,34.96 461.40,37.62 462.40,40.30 463.40,42.91 464.40,45.41 465.40,47.74 466.40,49.84 467.40,51.66 468.40,53.16 469.40,54.31 470.40,55.07 471.40,55.42 472.40,55.36 473.40,54.89 474.40,54.02 475.40,52.77 476.40,51.19 477.40,49.30 478.40,47.17 479.40,44.85 480.40,42.42 481.40,39.95 482.40,37.51 483.40,35.19 484.40,33.06 485.40,31.21 486.40,29.70 487.40,28.61 488.40,27.99 489.40,27.87 490.40,28.29 491.40,29.25 492.40,30.74 493.40,32.76 494.40,35.25 495.40,38.16 496.40,41.45 497.40,45.06 498.40,48.90 499.40,52.92 500.40,57.06 501.40,61.24 502.40,65.41 503.40,69.51 504.40,73.50 505.40,77.34 506.40,80.99 507.40,84.42 508.40,87.61 509.40,90.56 510.40,93.26 511.40,95.70 512.40,97.89 513.40,99.84 514.40,101.56 515.40,103.06 516.40,104.37 517.40,105.50 518.40,106.46 519.40,107.28 520.40,107.97 521.40,108.55 522.40,109.04 523.40,109.44 524.40,109.77 525.40,110.04 526.40,110.27 527.40,110.45 528.40,110.60 529.40,110.73 530.40,110.83 531.40,110.91 532.40,110.98 533.40,111.04 534.40,111.09 535.40,111.13 536.40,111.17 537.40,111.20 538.40,111.23 539.40,111.25 540.40,111.27" fill="none" stroke="#e23a36" stroke-width="1.0" stroke-linejoin="round" stroke-linecap="round"/>
<text x="403.50" y="77.80" text-anchor="start" font-size="6.3" fill="#222" class="h">-N-</text>
<line x1="409.30" y1="79.30" x2="422.88" y2="91.74" stroke="#111" stroke-width="0.7"/>
<polygon points="424.80,93.50 422.15,92.55 423.62,90.94" fill="#111"/>
<text x="422.90" y="36.80" text-anchor="start" font-size="6.3" fill="#222" class="h">-NH-</text>
<line x1="433.80" y1="40.00" x2="446.36" y2="49.98" stroke="#111" stroke-width="0.7"/>
<polygon points="448.40,51.60 445.69,50.84 447.04,49.13" fill="#111"/>
<text x="506.30" y="47.50" text-anchor="start" font-size="6.3" fill="#222" class="h">-NH<tspan font-size="3.8" dy="1.2">2</tspan></text>
<line x1="507.20" y1="50.40" x2="498.43" y2="57.38" stroke="#111" stroke-width="0.7"/>
<polygon points="496.40,59.00 497.75,56.53 499.11,58.23" fill="#111"/>
<polyline points="8.70,244.34 9.70,244.28 10.70,244.20 11.70,244.11 12.70,244.01 13.70,243.89 14.70,243.76 15.70,243.62 16.70,243.45 17.70,243.26 18.70,243.05 19.70,242.81 20.70,242.54 21.70,242.24 22.70,241.91 23.70,241.54 24.70,241.13 25.70,240.68 26.70,240.18 27.70,239.64 28.70,239.05 29.70,238.40 30.70,237.70 31.70,236.95 32.70,236.13 33.70,235.26 34.70,234.32 35.70,233.33 36.70,232.27 37.70,231.15 38.70,229.97 39.70,228.73 40.70,227.44 41.70,226.09 42.70,224.69 43.70,223.25 44.70,221.77 45.70,220.26 46.70,218.72 47.70,217.16 48.70,215.58 49.70,214.01 50.70,212.44 51.70,210.88 52.70,209.35 53.70,207.86 54.70,206.41 55.70,205.02 56.70,203.69 57.70,202.44 58.70,201.27 59.70,200.20 60.70,199.23 61.70,198.37 62.70,197.63 63.70,197.01 64.70,196.53 65.70,196.18 66.70,195.96 67.70,195.89 68.70,195.96 69.70,196.16 70.70,196.51 71.70,196.99 72.70,197.61 73.70,198.35 74.70,199.22 75.70,200.20 76.70,201.29 77.70,202.48 78.70,203.76 79.70,205.12 80.70,206.55 81.70,208.04 82.70,209.59 83.70,211.18 84.70,212.79 85.70,214.43 86.70,216.09 87.70,217.74 88.70,219.39 89.70,221.02 90.70,222.63 91.70,224.21 92.70,225.76 93.70,227.26 94.70,228.72 95.70,230.13 96.70,231.48 97.70,232.78 98.70,234.02 99.70,235.20 100.70,236.32 101.70,237.38 102.70,238.37 103.70,239.31 104.70,240.19 105.70,241.01 106.70,241.78 107.70,242.49 108.70,243.15 109.70,243.76 110.70,244.32 111.70,244.84 112.70,245.32 113.70,245.76 114.70,246.17 115.70,246.54 116.70,246.88 117.70,247.19 118.70,247.48 119.70,247.74 120.70,247.98 121.70,248.20 122.70,248.41 123.70,248.60 124.70,248.77 125.70,248.93 126.70,249.08 127.70,249.21 128.70,249.34 129.70,249.46 130.70,249.57 131.70,249.68 132.70,249.77 133.70,249.87 134.70,249.95 135.70,250.03 136.70,250.11 137.70,250.18 138.70,250.24 139.70,250.30 140.70,250.36 141.70,250.41 142.70,250.46 143.70,250.50 144.70,250.54 145.70,250.58 146.70,250.61 147.70,250.64 148.70,250.67 149.70,250.70 150.70,250.72 151.70,250.74 152.70,250.76 153.70,250.78 154.70,250.79 155.70,250.81 156.70,250.82 157.70,250.83 158.70,250.84 159.70,250.85 160.70,250.86 161.70,250.87 162.70,250.88 163.70,250.89 164.70,250.89 165.70,250.90 166.70,250.91 167.70,250.92 168.70,250.92 169.70,250.93 170.70,250.94 171.70,250.94 172.70,250.95 173.70,250.96 174.70,250.96 175.70,250.97 176.20,250.98" fill="none" stroke="#3aa83a" stroke-width="1.1" stroke-linejoin="round" stroke-linecap="round"/>
<polyline points="8.70,244.69 9.70,244.68 10.70,244.67 11.70,244.67 12.70,244.66 13.70,244.66 14.70,244.65 15.70,244.65 16.70,244.64 17.70,244.64 18.70,244.63 19.70,244.63 20.70,244.63 21.70,244.62 22.70,244.62 23.70,244.62 24.70,244.62 25.70,244.61 26.70,244.61 27.70,244.61 28.70,244.61 29.70,244.61 30.70,244.61 31.70,244.62 32.70,244.62 33.70,244.62 34.70,244.63 35.70,244.63 36.70,244.64 37.70,244.65 38.70,244.65 39.70,244.66 40.70,244.67 41.70,244.68 42.70,244.69 43.70,244.71 44.70,244.72 45.70,244.73 46.70,244.74 47.70,244.75 48.70,244.77 49.70,244.78 50.70,244.78 51.70,244.79 52.70,244.79 53.70,244.79 54.70,244.78 55.70,244.77 56.70,244.74 57.70,244.71 58.70,244.66 59.70,244.60 60.70,244.52 61.70,244.42 62.70,244.30 63.70,244.15 64.70,243.96 65.70,243.75 66.70,243.49 67.70,243.18 68.70,242.83 69.70,242.42 70.70,241.94 71.70,241.40 72.70,240.79 73.70,240.09 74.70,239.30 75.70,238.43 76.70,237.45 77.70,236.36 78.70,235.17 79.70,233.86 80.70,232.43 81.70,230.87 82.70,229.19 83.70,227.39 84.70,225.46 85.70,223.41 86.70,221.24 87.70,218.96 88.70,216.56 89.70,214.07 90.70,211.50 91.70,208.85 92.70,206.14 93.70,203.39 94.70,200.61 95.70,197.82 96.70,195.05 97.70,192.32 98.70,189.65 99.70,187.06 100.70,184.58 101.70,182.22 102.70,180.02 103.70,177.99 104.70,176.16 105.70,174.54 106.70,173.15 107.70,172.00 108.70,171.12 109.70,170.51 110.70,170.17 111.70,170.12 112.70,170.34 113.70,170.85 114.70,171.63 115.70,172.68 116.70,173.99 117.70,175.55 118.70,177.33 119.70,179.33 120.70,181.52 121.70,183.88 122.70,186.39 123.70,189.03 124.70,191.77 125.70,194.59 126.70,197.47 127.70,200.38 128.70,203.30 129.70,206.22 130.70,209.11 131.70,211.95 132.70,214.72 133.70,217.42 134.70,220.03 135.70,222.54 136.70,224.94 137.70,227.22 138.70,229.38 139.70,231.41 140.70,233.31 141.70,235.09 142.70,236.73 143.70,238.25 144.70,239.65 145.70,240.93 146.70,242.09 147.70,243.15 148.70,244.10 149.70,244.96 150.70,245.73 151.70,246.41 152.70,247.02 153.70,247.56 154.70,248.03 155.70,248.45 156.70,248.81 157.70,249.13 158.70,249.40 159.70,249.64 160.70,249.84 161.70,250.02 162.70,250.17 163.70,250.30 164.70,250.41 165.70,250.50 166.70,250.58 167.70,250.65 168.70,250.70 169.70,250.75 170.70,250.79 171.70,250.83 172.70,250.86 173.70,250.88 174.70,250.90 175.70,250.92 176.20,250.93" fill="none" stroke="#ff3cf0" stroke-width="1.1" stroke-linejoin="round" stroke-linecap="round"/>
<polyline points="8.70,244.63 9.70,244.62 10.70,244.61 11.70,244.61 12.70,244.60 13.70,244.59 14.70,244.59 15.70,244.58 16.70,244.58 17.70,244.57 18.70,244.57 19.70,244.56 20.70,244.56 21.70,244.55 22.70,244.55 23.70,244.54 24.70,244.54 25.70,244.54 26.70,244.53 27.70,244.53 28.70,244.53 29.70,244.53 30.70,244.53 31.70,244.53 32.70,244.53 33.70,244.53 34.70,244.54 35.70,244.54 36.70,244.55 37.70,244.55 38.70,244.56 39.70,244.57 40.70,244.58 41.70,244.59 42.70,244.60 43.70,244.61 44.70,244.63 45.70,244.64 46.70,244.66 47.70,244.68 48.70,244.70 49.70,244.72 50.70,244.75 51.70,244.77 52.70,244.80 53.70,244.83 54.70,244.86 55.70,244.89 56.70,244.92 57.70,244.96 58.70,244.99 59.70,245.03 60.70,245.06 61.70,245.10 62.70,245.14 63.70,245.18 64.70,245.22 65.70,245.26 66.70,245.30 67.70,245.34 68.70,245.39 69.70,245.43 70.70,245.47 71.70,245.51 72.70,245.55 73.70,245.60 74.70,245.64 75.70,245.68 76.70,245.72 77.70,245.76 78.70,245.80 79.70,245.84 80.70,245.88 81.70,245.92 82.70,245.96 83.70,246.00 84.70,246.03 85.70,246.07 86.70,246.11 87.70,246.14 88.70,246.18 89.70,246.21 90.70,246.25 91.70,246.28 92.70,246.30 93.70,246.33 94.70,246.35 95.70,246.37 96.70,246.37 97.70,246.37 98.70,246.36 99.70,246.33 100.70,246.28 101.70,246.21 102.70,246.11 103.70,245.98 104.70,245.81 105.70,245.59 106.70,245.32 107.70,244.98 108.70,244.58 109.70,244.09 110.70,243.52 111.70,242.86 112.70,242.09 113.70,241.22 114.70,240.23 115.70,239.13 116.70,237.92 117.70,236.60 118.70,235.17 119.70,233.65 120.70,232.05 121.70,230.38 122.70,228.67 123.70,226.94 124.70,225.21 125.70,223.52 126.70,221.90 127.70,220.38 128.70,219.00 129.70,217.79 130.70,216.79 131.70,216.02 132.70,215.52 133.70,215.29 134.70,215.35 135.70,215.70 136.70,216.33 137.70,217.22 138.70,218.34 139.70,219.67 140.70,221.17 141.70,222.81 142.70,224.55 143.70,226.36 144.70,228.20 145.70,230.05 146.70,231.88 147.70,233.66 148.70,235.37 149.70,237.01 150.70,238.54 151.70,239.98 152.70,241.29 153.70,242.50 154.70,243.59 155.70,244.56 156.70,245.43 157.70,246.20 158.70,246.86 159.70,247.44 160.70,247.94 161.70,248.37 162.70,248.73 163.70,249.04 164.70,249.29 165.70,249.51 166.70,249.69 167.70,249.84 168.70,249.97 169.70,250.08 170.70,250.16 171.70,250.24 172.70,250.30 173.70,250.36 174.70,250.41 175.70,250.45 176.20,250.47" fill="none" stroke="#4646e6" stroke-width="1.1" stroke-linejoin="round" stroke-linecap="round"/>
<polyline points="8.70,244.69 9.70,244.68 10.70,244.67 11.70,244.67 12.70,244.66 13.70,244.66 14.70,244.65 15.70,244.65 16.70,244.64 17.70,244.64 18.70,244.63 19.70,244.63 20.70,244.63 21.70,244.62 22.70,244.62 23.70,244.62 24.70,244.62 25.70,244.61 26.70,244.61 27.70,244.61 28.70,244.61 29.70,244.61 30.70,244.61 31.70,244.62 32.70,244.62 33.70,244.62 34.70,244.63 35.70,244.63 36.70,244.64 37.70,244.65 38.70,244.66 39.70,244.67 40.70,244.68 41.70,244.69 42.70,244.71 43.70,244.72 44.70,244.74 45.70,244.76 46.70,244.78 47.70,244.80 48.70,244.83 49.70,244.85 50.70,244.88 51.70,244.91 52.70,244.94 53.70,244.97 54.70,245.00 55.70,245.04 56.70,245.07 57.70,245.11 58.70,245.15 59.70,245.19 60.70,245.23 61.70,245.27 62.70,245.32 63.70,245.36 64.70,245.41 65.70,245.45 66.70,245.50 67.70,245.55 68.70,245.59 69.70,245.64 70.70,245.69 71.70,245.74 72.70,245.79 73.70,245.84 74.70,245.89 75.70,245.94 76.70,245.99 77.70,246.04 78.70,246.09 79.70,246.14 80.70,246.19 81.70,246.24 82.70,246.29 83.70,246.34 84.70,246.39 85.70,246.44 86.70,246.49 87.70,246.55 88.70,246.60 89.70,246.66 90.70,246.71 91.70,246.77 92.70,246.83 93.70,246.89 94.70,246.95 95.70,247.01 96.70,247.07 97.70,247.14 98.70,247.21 99.70,247.28 100.70,247.35 101.70,247.42 102.70,247.49 103.70,247.57 104.70,247.65 105.70,247.72 106.70,247.80 107.70,247.88 108.70,247.97 109.70,248.05 110.70,248.13 111.70,248.22 112.70,248.30 113.70,248.38 114.70,248.47 115.70,248.55 116.70,248.64 117.70,248.72 118.70,248.81 119.70,248.89 120.70,248.97 121.70,249.06 122.70,249.14 123.70,249.22 124.70,249.30 125.70,249.38 126.70,249.46 127.70,249.54 128.70,249.62 129.70,249.69 130.70,249.77 131.70,249.84 132.70,249.91 133.70,249.98 134.70,250.04 135.70,250.11 136.70,250.17 137.70,250.23 138.70,250.28 139.70,250.34 140.70,250.39 141.70,250.43 142.70,250.48 143.70,250.52 144.70,250.55 145.70,250.59 146.70,250.62 147.70,250.65 148.70,250.68 149.70,250.70 150.70,250.72 151.70,250.74 152.70,250.76 153.70,250.78 154.70,250.79 155.70,250.81 156.70,250.82 157.70,250.83 158.70,250.84 159.70,250.85 160.70,250.86 161.70,250.87 162.70,250.88 163.70,250.89 164.70,250.89 165.70,250.90 166.70,250.91 167.70,250.92 168.70,250.92 169.70,250.93 170.70,250.94 171.70,250.94 172.70,250.95 173.70,250.96 174.70,250.96 175.70,250.97 176.20,250.98" fill="none" stroke="#4646e6" stroke-width="1.1" stroke-linejoin="round" stroke-linecap="round"/>
<polyline points="8.70,243.67 9.70,243.45 10.70,243.23 11.70,243.14 12.70,243.31 13.70,243.65 14.70,243.79 15.70,243.46 16.70,242.73 17.70,241.98 18.70,241.50 19.70,241.36 20.70,241.39 21.70,241.44 22.70,241.45 23.70,241.33 24.70,240.93 25.70,240.19 26.70,239.21 27.70,238.27 28.70,237.62 29.70,237.28 30.70,237.04 31.70,236.63 32.70,235.90 33.70,234.93 34.70,233.89 35.70,232.88 36.70,231.90 37.70,230.93 38.70,229.92 39.70,228.85 40.70,227.67 41.70,226.34 42.70,224.84 43.70,223.18 44.70,221.46 45.70,219.81 46.70,218.24 47.70,216.60 48.70,214.77 49.70,212.78 50.70,210.82 51.70,209.06 52.70,207.45 53.70,205.90 54.70,204.39 55.70,202.99 56.70,201.76 57.70,200.67 58.70,199.61 59.70,198.49 60.70,197.29 61.70,196.07 62.70,194.95 63.70,194.18 64.70,193.92 65.70,194.07 66.70,194.25 67.70,194.11 68.70,193.58 69.70,192.93 70.70,192.49 71.70,192.39 72.70,192.47 73.70,192.56 74.70,192.65 75.70,192.83 76.70,193.03 77.70,193.02 78.70,192.69 79.70,192.21 80.70,191.83 81.70,191.73 82.70,191.87 83.70,192.07 84.70,192.06 85.70,191.68 86.70,190.93 87.70,189.95 88.70,188.90 89.70,187.87 90.70,186.77 91.70,185.43 92.70,183.80 93.70,182.02 94.70,180.30 95.70,178.78 96.70,177.51 97.70,176.48 98.70,175.53 99.70,174.39 100.70,172.98 101.70,171.35 102.70,169.61 103.70,167.89 104.70,166.33 105.70,164.97 106.70,163.84 107.70,163.06 108.70,162.71 109.70,162.68 110.70,162.68 111.70,162.52 112.70,162.20 113.70,161.80 114.70,161.43 115.70,161.24 116.70,161.35 117.70,161.77 118.70,162.39 119.70,163.12 120.70,163.87 121.70,164.62 122.70,165.41 123.70,166.29 124.70,167.25 125.70,168.27 126.70,169.29 127.70,170.32 128.70,171.47 129.70,172.94 130.70,174.85 131.70,177.16 132.70,179.61 133.70,182.04 134.70,184.58 135.70,187.44 136.70,190.67 137.70,194.06 138.70,197.32 139.70,200.35 140.70,203.29 141.70,206.29 142.70,209.46 143.70,212.82 144.70,216.33 145.70,219.81 146.70,223.01 147.70,225.76 148.70,228.15 149.70,230.41 150.70,232.73 151.70,235.10 152.70,237.34 153.70,239.21 154.70,240.65 155.70,241.81 156.70,242.94 157.70,244.08 158.70,245.11 159.70,245.97 160.70,246.74 161.70,247.44 162.70,248.02 163.70,248.43 164.70,248.72 165.70,248.99 166.70,249.24 167.70,249.41 168.70,249.46 169.70,249.49 170.70,249.59 171.70,249.74 172.70,249.89 173.70,250.03 174.70,250.20 175.70,250.39 176.20,250.47" fill="none" stroke="#2a2020" stroke-width="0.8" stroke-linejoin="round" stroke-linecap="round"/>
<polyline points="8.70,244.29 9.70,244.22 10.70,244.14 11.70,244.05 12.70,243.95 13.70,243.83 14.70,243.70 15.70,243.55 16.70,243.38 17.70,243.19 18.70,242.98 19.70,242.74 20.70,242.47 21.70,242.17 22.70,241.83 23.70,241.46 24.70,241.05 25.70,240.60 26.70,240.10 27.70,239.56 28.70,238.97 29.70,238.32 30.70,237.62 31.70,236.86 32.70,236.04 33.70,235.17 34.70,234.23 35.70,233.23 36.70,232.17 37.70,231.05 38.70,229.86 39.70,228.62 40.70,227.32 41.70,225.97 42.70,224.57 43.70,223.12 44.70,221.63 45.70,220.11 46.70,218.56 47.70,216.99 48.70,215.40 49.70,213.81 50.70,212.21 51.70,210.63 52.70,209.07 53.70,207.54 54.70,206.05 55.70,204.60 56.70,203.21 57.70,201.88 58.70,200.62 59.70,199.44 60.70,198.35 61.70,197.34 62.70,196.43 63.70,195.62 64.70,194.90 65.70,194.28 66.70,193.75 67.70,193.32 68.70,192.98 69.70,192.72 70.70,192.54 71.70,192.43 72.70,192.37 73.70,192.36 74.70,192.38 75.70,192.43 76.70,192.48 77.70,192.53 78.70,192.55 79.70,192.54 80.70,192.48 81.70,192.36 82.70,192.17 83.70,191.89 84.70,191.51 85.70,191.03 86.70,190.45 87.70,189.75 88.70,188.93 89.70,188.00 90.70,186.95 91.70,185.80 92.70,184.54 93.70,183.20 94.70,181.78 95.70,180.29 96.70,178.76 97.70,177.19 98.70,175.61 99.70,174.03 100.70,172.48 101.70,170.97 102.70,169.51 103.70,168.14 104.70,166.86 105.70,165.69 106.70,164.63 107.70,163.70 108.70,162.91 109.70,162.26 110.70,161.75 111.70,161.39 112.70,161.16 113.70,161.06 114.70,161.10 115.70,161.25 116.70,161.52 117.70,161.90 118.70,162.37 119.70,162.94 120.70,163.60 121.70,164.35 122.70,165.19 123.70,166.12 124.70,167.14 125.70,168.27 126.70,169.52 127.70,170.89 128.70,172.41 129.70,174.09 130.70,175.94 131.70,177.97 132.70,180.20 133.70,182.63 134.70,185.25 135.70,188.06 136.70,191.03 137.70,194.15 138.70,197.39 139.70,200.70 140.70,204.06 141.70,207.43 142.70,210.78 143.70,214.07 144.70,217.28 145.70,220.38 146.70,223.34 147.70,226.15 148.70,228.79 149.70,231.26 150.70,233.54 151.70,235.64 152.70,237.55 153.70,239.28 154.70,240.83 155.70,242.20 156.70,243.42 157.70,244.49 158.70,245.42 159.70,246.23 160.70,246.92 161.70,247.52 162.70,248.02 163.70,248.45 164.70,248.81 165.70,249.11 166.70,249.36 167.70,249.57 168.70,249.75 169.70,249.90 170.70,250.02 171.70,250.12 172.70,250.21 173.70,250.28 174.70,250.35 175.70,250.40 176.20,250.43" fill="none" stroke="#e23a36" stroke-width="1.0" stroke-linejoin="round" stroke-linecap="round"/>
<text x="40.70" y="196.00" text-anchor="start" font-size="6.3" fill="#222" class="h">C=O</text>
<line x1="49.10" y1="198.60" x2="63.01" y2="211.81" stroke="#111" stroke-width="0.7"/>
<polygon points="64.90,213.60 62.26,212.60 63.77,211.02" fill="#111"/>
<text x="143.90" y="179.10" text-anchor="start" font-size="6.3" fill="#222" class="h">C-O</text>
<line x1="141.60" y1="180.20" x2="117.15" y2="196.74" stroke="#111" stroke-width="0.7"/>
<polygon points="115.00,198.20 116.54,195.84 117.77,197.65" fill="#111"/>
<text x="155.20" y="221.10" text-anchor="start" font-size="6.3" fill="#222" class="h">-OH</text>
<line x1="151.80" y1="221.90" x2="138.18" y2="230.69" stroke="#111" stroke-width="0.7"/>
<polygon points="136.00,232.10 137.59,229.77 138.78,231.61" fill="#111"/>
<polyline points="192.30,241.42 193.30,241.42 194.30,241.41 195.30,241.40 196.30,241.39 197.30,241.37 198.30,241.36 199.30,241.33 200.30,241.31 201.30,241.28 202.30,241.25 203.30,241.21 204.30,241.17 205.30,241.12 206.30,241.07 207.30,241.01 208.30,240.95 209.30,240.88 210.30,240.80 211.30,240.72 212.30,240.63 213.30,240.53 214.30,240.43 215.30,240.32 216.30,240.21 217.30,240.09 218.30,239.96 219.30,239.82 220.30,239.68 221.30,239.53 222.30,239.37 223.30,239.21 224.30,239.04 225.30,238.87 226.30,238.70 227.30,238.52 228.30,238.33 229.30,238.15 230.30,237.96 231.30,237.77 232.30,237.59 233.30,237.40 234.30,237.21 235.30,237.03 236.30,236.85 237.30,236.68 238.30,236.51 239.30,236.35 240.30,236.20 241.30,236.05 242.30,235.92 243.30,235.80 244.30,235.69 245.30,235.59 246.30,235.50 247.30,235.43 248.30,235.38 249.30,235.34 250.30,235.32 251.30,235.31 252.30,235.32 253.30,235.35 254.30,235.39 255.30,235.45 256.30,235.53 257.30,235.63 258.30,235.74 259.30,235.87 260.30,236.01 261.30,236.17 262.30,236.34 263.30,236.53 264.30,236.73 265.30,236.95 266.30,237.17 267.30,237.41 268.30,237.65 269.30,237.91 270.30,238.17 271.30,238.44 272.30,238.71 273.30,238.99 274.30,239.28 275.30,239.57 276.30,239.85 277.30,240.15 278.30,240.44 279.30,240.73 280.30,241.02 281.30,241.31 282.30,241.59 283.30,241.88 284.30,242.16 285.30,242.44 286.30,242.71 287.30,242.98 288.30,243.25 289.30,243.52 290.30,243.78 291.30,244.04 292.30,244.30 293.30,244.56 294.30,244.82 295.30,245.07 296.30,245.33 297.30,245.59 298.30,245.86 299.30,246.13 300.30,246.40 301.30,246.68 302.30,246.96 303.30,247.25 304.30,247.54 305.30,247.84 306.30,248.14 307.30,248.44 308.30,248.75 309.30,249.05 310.30,249.36 311.30,249.65 312.30,249.95 313.30,250.23 314.30,250.51 315.30,250.77 316.30,251.02 317.30,251.25 318.30,251.47 319.30,251.67 320.30,251.86 321.30,252.02 322.30,252.17 323.30,252.31 324.30,252.43 325.30,252.53 326.30,252.63 327.30,252.71 328.30,252.77 329.30,252.83 330.30,252.88 331.30,252.92 332.30,252.95 333.30,252.98 334.30,253.00 335.30,253.02 336.30,253.03 337.30,253.04 338.30,253.05 339.30,253.05 340.30,253.05 341.30,253.06 342.30,253.06 343.30,253.05 344.30,253.05 345.30,253.05 346.30,253.04 347.30,253.04 348.30,253.03 349.30,253.03 350.30,253.02 351.30,253.01 352.30,253.00 353.30,253.00 354.30,252.99 355.30,252.98 356.30,252.97 357.30,252.96 358.30,252.95 359.30,252.94 359.55,252.94" fill="none" stroke="#4646e6" stroke-width="1.1" stroke-linejoin="round" stroke-linecap="round"/>
<polyline points="192.30,241.41 193.30,241.42 194.30,241.43 195.30,241.44 196.30,241.45 197.30,241.46 198.30,241.47 199.30,241.48 200.30,241.49 201.30,241.50 202.30,241.50 203.30,241.51 204.30,241.52 205.30,241.53 206.30,241.54 207.30,241.55 208.30,241.56 209.30,241.57 210.30,241.57 211.30,241.58 212.30,241.59 213.30,241.60 214.30,241.61 215.30,241.61 216.30,241.62 217.30,241.63 218.30,241.63 219.30,241.64 220.30,241.65 221.30,241.65 222.30,241.66 223.30,241.66 224.30,241.66 225.30,241.66 226.30,241.66 227.30,241.66 228.30,241.66 229.30,241.65 230.30,241.64 231.30,241.63 232.30,241.62 233.30,241.60 234.30,241.57 235.30,241.54 236.30,241.50 237.30,241.46 238.30,241.41 239.30,241.34 240.30,241.27 241.30,241.19 242.30,241.09 243.30,240.98 244.30,240.85 245.30,240.71 246.30,240.55 247.30,240.36 248.30,240.16 249.30,239.93 250.30,239.67 251.30,239.39 252.30,239.08 253.30,238.74 254.30,238.37 255.30,237.97 256.30,237.53 257.30,237.05 258.30,236.54 259.30,235.99 260.30,235.40 261.30,234.77 262.30,234.11 263.30,233.40 264.30,232.66 265.30,231.89 266.30,231.08 267.30,230.24 268.30,229.37 269.30,228.47 270.30,227.55 271.30,226.60 272.30,225.65 273.30,224.68 274.30,223.71 275.30,222.73 276.30,221.76 277.30,220.80 278.30,219.86 279.30,218.95 280.30,218.07 281.30,217.22 282.30,216.42 283.30,215.67 284.30,214.98 285.30,214.36 286.30,213.80 287.30,213.33 288.30,212.94 289.30,212.64 290.30,212.43 291.30,212.32 292.30,212.31 293.30,212.40 294.30,212.60 295.30,212.90 296.30,213.30 297.30,213.80 298.30,214.40 299.30,215.10 300.30,215.89 301.30,216.76 302.30,217.71 303.30,218.73 304.30,219.82 305.30,220.97 306.30,222.17 307.30,223.41 308.30,224.68 309.30,225.98 310.30,227.29 311.30,228.61 312.30,229.93 313.30,231.25 314.30,232.54 315.30,233.81 316.30,235.06 317.30,236.26 318.30,237.43 319.30,238.56 320.30,239.63 321.30,240.66 322.30,241.63 323.30,242.55 324.30,243.42 325.30,244.23 326.30,244.99 327.30,245.70 328.30,246.36 329.30,246.97 330.30,247.54 331.30,248.06 332.30,248.53 333.30,248.97 334.30,249.36 335.30,249.73 336.30,250.05 337.30,250.35 338.30,250.62 339.30,250.86 340.30,251.08 341.30,251.27 342.30,251.45 343.30,251.60 344.30,251.74 345.30,251.86 346.30,251.97 347.30,252.06 348.30,252.14 349.30,252.21 350.30,252.28 351.30,252.33 352.30,252.38 353.30,252.42 354.30,252.45 355.30,252.48 356.30,252.50 357.30,252.52 358.30,252.54 359.30,252.55 359.55,252.56" fill="none" stroke="#3aa83a" stroke-width="1.1" stroke-linejoin="round" stroke-linecap="round"/>
<polyline points="192.30,241.49 193.30,241.50 194.30,241.52 195.30,241.53 196.30,241.54 197.30,241.55 198.30,241.56 199.30,241.58 200.30,241.59 201.30,241.60 202.30,241.61 203.30,241.62 204.30,241.63 205.30,241.64 206.30,241.66 207.30,241.67 208.30,241.68 209.30,241.69 210.30,241.70 211.30,241.71 212.30,241.73 213.30,241.74 214.30,241.75 215.30,241.76 216.30,241.78 217.30,241.79 218.30,241.80 219.30,241.82 220.30,241.83 221.30,241.84 222.30,241.86 223.30,241.87 224.30,241.89 225.30,241.90 226.30,241.92 227.30,241.93 228.30,241.95 229.30,241.97 230.30,241.98 231.30,242.00 232.30,242.02 233.30,242.04 234.30,242.06 235.30,242.08 236.30,242.10 237.30,242.12 238.30,242.14 239.30,242.16 240.30,242.19 241.30,242.21 242.30,242.23 243.30,242.26 244.30,242.28 245.30,242.31 246.30,242.33 247.30,242.36 248.30,242.39 249.30,242.41 250.30,242.44 251.30,242.47 252.30,242.50 253.30,242.53 254.30,242.56 255.30,242.59 256.30,242.62 257.30,242.66 258.30,242.69 259.30,242.72 260.30,242.76 261.30,242.79 262.30,242.83 263.30,242.87 264.30,242.91 265.30,242.95 266.30,242.99 267.30,243.03 268.30,243.07 269.30,243.11 270.30,243.15 271.30,243.19 272.30,243.23 273.30,243.27 274.30,243.30 275.30,243.32 276.30,243.34 277.30,243.34 278.30,243.32 279.30,243.28 280.30,243.21 281.30,243.09 282.30,242.92 283.30,242.68 284.30,242.36 285.30,241.94 286.30,241.38 287.30,240.68 288.30,239.81 289.30,238.73 290.30,237.43 291.30,235.88 292.30,234.05 293.30,231.92 294.30,229.49 295.30,226.75 296.30,223.70 297.30,220.36 298.30,216.75 299.30,212.93 300.30,208.94 301.30,204.85 302.30,200.74 303.30,196.71 304.30,192.85 305.30,189.27 306.30,186.08 307.30,183.37 308.30,181.24 309.30,179.78 310.30,179.04 311.30,179.06 312.30,179.86 313.30,181.40 314.30,183.63 315.30,186.49 316.30,189.89 317.30,193.71 318.30,197.85 319.30,202.22 320.30,206.69 321.30,211.18 322.30,215.59 323.30,219.85 324.30,223.90 325.30,227.69 326.30,231.19 327.30,234.36 328.30,237.21 329.30,239.73 330.30,241.93 331.30,243.83 332.30,245.45 333.30,246.81 334.30,247.95 335.30,248.89 336.30,249.65 337.30,250.27 338.30,250.77 339.30,251.16 340.30,251.48 341.30,251.72 342.30,251.91 343.30,252.06 344.30,252.18 345.30,252.27 346.30,252.34 347.30,252.39 348.30,252.43 349.30,252.47 350.30,252.50 351.30,252.52 352.30,252.54 353.30,252.55 354.30,252.56 355.30,252.57 356.30,252.58 357.30,252.59 358.30,252.59 359.30,252.60 359.55,252.60" fill="none" stroke="#ff3cf0" stroke-width="1.1" stroke-linejoin="round" stroke-linecap="round"/>
<polyline points="192.30,241.55 193.30,241.56 194.30,241.58 195.30,241.59 196.30,241.60 197.30,241.62 198.30,241.63 199.30,241.64 200.30,241.65 201.30,241.67 202.30,241.68 203.30,241.69 204.30,241.71 205.30,241.72 206.30,241.73 207.30,241.74 208.30,241.76 209.30,241.77 210.30,241.78 211.30,241.80 212.30,241.81 213.30,241.82 214.30,241.84 215.30,241.85 216.30,241.87 217.30,241.88 218.30,241.90 219.30,241.91 220.30,241.93 221.30,241.94 222.30,241.96 223.30,241.98 224.30,242.00 225.30,242.01 226.30,242.03 227.30,242.05 228.30,242.07 229.30,242.09 230.30,242.11 231.30,242.13 232.30,242.15 233.30,242.18 234.30,242.20 235.30,242.22 236.30,242.25 237.30,242.27 238.30,242.30 239.30,242.32 240.30,242.35 241.30,242.38 242.30,242.41 243.30,242.43 244.30,242.46 245.30,242.50 246.30,242.53 247.30,242.56 248.30,242.59 249.30,242.63 250.30,242.66 251.30,242.70 252.30,242.73 253.30,242.77 254.30,242.81 255.30,242.85 256.30,242.89 257.30,242.93 258.30,242.98 259.30,243.02 260.30,243.07 261.30,243.11 262.30,243.16 263.30,243.22 264.30,243.27 265.30,243.32 266.30,243.38 267.30,243.44 268.30,243.50 269.30,243.56 270.30,243.63 271.30,243.70 272.30,243.77 273.30,243.84 274.30,243.91 275.30,243.99 276.30,244.07 277.30,244.15 278.30,244.24 279.30,244.33 280.30,244.42 281.30,244.51 282.30,244.61 283.30,244.70 284.30,244.81 285.30,244.91 286.30,245.02 287.30,245.13 288.30,245.24 289.30,245.36 290.30,245.48 291.30,245.61 292.30,245.75 293.30,245.89 294.30,246.03 295.30,246.19 296.30,246.35 297.30,246.52 298.30,246.70 299.30,246.89 300.30,247.09 301.30,247.30 302.30,247.52 303.30,247.75 304.30,247.99 305.30,248.24 306.30,248.50 307.30,248.76 308.30,249.03 309.30,249.30 310.30,249.58 311.30,249.85 312.30,250.12 313.30,250.38 314.30,250.64 315.30,250.89 316.30,251.12 317.30,251.34 318.30,251.55 319.30,251.74 320.30,251.91 321.30,252.07 322.30,252.22 323.30,252.35 324.30,252.46 325.30,252.56 326.30,252.65 327.30,252.73 328.30,252.79 329.30,252.84 330.30,252.89 331.30,252.93 332.30,252.96 333.30,252.99 334.30,253.01 335.30,253.02 336.30,253.03 337.30,253.04 338.30,253.05 339.30,253.05 340.30,253.06 341.30,253.06 342.30,253.06 343.30,253.05 344.30,253.05 345.30,253.05 346.30,253.04 347.30,253.04 348.30,253.03 349.30,253.03 350.30,253.02 351.30,253.01 352.30,253.00 353.30,253.00 354.30,252.99 355.30,252.98 356.30,252.97 357.30,252.96 358.30,252.95 359.30,252.94 359.55,252.94" fill="none" stroke="#4646e6" stroke-width="1.1" stroke-linejoin="round" stroke-linecap="round"/>
<polyline points="192.30,241.22 193.30,241.21 194.30,241.20 195.30,241.19 196.30,241.17 197.30,241.15 198.30,241.13 199.30,241.10 200.30,241.07 201.30,241.04 202.30,241.00 203.30,240.96 204.30,240.91 205.30,240.86 206.30,240.80 207.30,240.74 208.30,240.67 209.30,240.59 210.30,240.51 211.30,240.42 212.30,240.32 213.30,240.22 214.30,240.11 215.30,239.99 216.30,239.87 217.30,239.74 218.30,239.60 219.30,239.45 220.30,239.29 221.30,239.13 222.30,238.96 223.30,238.79 224.30,238.60 225.30,238.41 226.30,238.22 227.30,238.01 228.30,237.80 229.30,237.59 230.30,237.37 231.30,237.15 232.30,236.92 233.30,236.68 234.30,236.45 235.30,236.21 236.30,235.96 237.30,235.72 238.30,235.47 239.30,235.21 240.30,234.96 241.30,234.70 242.30,234.43 243.30,234.16 244.30,233.89 245.30,233.61 246.30,233.33 247.30,233.04 248.30,232.74 249.30,232.43 250.30,232.11 251.30,231.78 252.30,231.44 253.30,231.08 254.30,230.70 255.30,230.31 256.30,229.90 257.30,229.47 258.30,229.01 259.30,228.53 260.30,228.03 261.30,227.51 262.30,226.95 263.30,226.37 264.30,225.77 265.30,225.14 266.30,224.48 267.30,223.80 268.30,223.09 269.30,222.36 270.30,221.61 271.30,220.84 272.30,220.06 273.30,219.26 274.30,218.46 275.30,217.64 276.30,216.81 277.30,215.98 278.30,215.15 279.30,214.31 280.30,213.46 281.30,212.60 282.30,211.72 283.30,210.82 284.30,209.89 285.30,208.91 286.30,207.87 287.30,206.74 288.30,205.52 289.30,204.17 290.30,202.67 291.30,201.01 292.30,199.16 293.30,197.11 294.30,194.84 295.30,192.35 296.30,189.64 297.30,186.72 298.30,183.62 299.30,180.38 300.30,177.05 301.30,173.69 302.30,170.38 303.30,167.19 304.30,164.24 305.30,161.60 306.30,159.39 307.30,157.69 308.30,156.60 309.30,156.20 310.30,156.53 311.30,157.63 312.30,159.50 313.30,162.11 314.30,165.40 315.30,169.30 316.30,173.72 317.30,178.54 318.30,183.66 319.30,188.97 320.30,194.35 321.30,199.71 322.30,204.96 323.30,210.02 324.30,214.83 325.30,219.34 326.30,223.51 327.30,227.32 328.30,230.76 329.30,233.84 330.30,236.56 331.30,238.94 332.30,241.01 333.30,242.78 334.30,244.30 335.30,245.59 336.30,246.67 337.30,247.58 338.30,248.34 339.30,248.97 340.30,249.50 341.30,249.94 342.30,250.30 343.30,250.61 344.30,250.86 345.30,251.08 346.30,251.26 347.30,251.41 348.30,251.54 349.30,251.66 350.30,251.75 351.30,251.84 352.30,251.91 353.30,251.97 354.30,252.03 355.30,252.08 356.30,252.12 357.30,252.15 358.30,252.18 359.30,252.21 359.55,252.22" fill="none" stroke="#e23a36" stroke-width="1.1" stroke-linejoin="round" stroke-linecap="round"/>
<text x="218.20" y="231.50" text-anchor="start" font-size="6.3" fill="#222" class="h">C-H</text>
<line x1="226.40" y1="232.70" x2="234.43" y2="239.60" stroke="#111" stroke-width="0.7"/>
<polygon points="236.40,241.30 233.72,240.43 235.14,238.78" fill="#111"/>
<text x="253.20" y="205.80" text-anchor="start" font-size="6.3" fill="#222" class="h">C-O</text>
<line x1="259.20" y1="208.20" x2="277.64" y2="226.28" stroke="#111" stroke-width="0.7"/>
<polygon points="279.50,228.10 276.88,227.06 278.41,225.50" fill="#111"/>
<text x="332.00" y="193.70" text-anchor="start" font-size="6.3" fill="#222" class="h">C-N</text>
<line x1="328.50" y1="195.30" x2="317.58" y2="204.61" stroke="#111" stroke-width="0.7"/>
<polygon points="315.60,206.30 316.87,203.78 318.29,205.44" fill="#111"/>
<polyline points="375.30,237.82 376.30,237.84 377.30,237.85 378.30,237.87 379.30,237.88 380.30,237.89 381.30,237.91 382.30,237.92 383.30,237.93 384.30,237.95 385.30,237.96 386.30,237.97 387.30,237.98 388.30,237.99 389.30,238.01 390.30,238.02 391.30,238.03 392.30,238.04 393.30,238.05 394.30,238.06 395.30,238.08 396.30,238.09 397.30,238.10 398.30,238.11 399.30,238.13 400.30,238.14 401.30,238.16 402.30,238.17 403.30,238.19 404.30,238.21 405.30,238.22 406.30,238.24 407.30,238.26 408.30,238.27 409.30,238.29 410.30,238.30 411.30,238.32 412.30,238.33 413.30,238.34 414.30,238.35 415.30,238.35 416.30,238.35 417.30,238.35 418.30,238.35 419.30,238.35 420.30,238.34 421.30,238.33 422.30,238.32 423.30,238.30 424.30,238.29 425.30,238.27 426.30,238.25 427.30,238.22 428.30,238.19 429.30,238.16 430.30,238.13 431.30,238.09 432.30,238.06 433.30,238.01 434.30,237.97 435.30,237.92 436.30,237.87 437.30,237.81 438.30,237.76 439.30,237.70 440.30,237.64 441.30,237.57 442.30,237.51 443.30,237.44 444.30,237.37 445.30,237.30 446.30,237.23 447.30,237.17 448.30,237.10 449.30,237.04 450.30,236.98 451.30,236.92 452.30,236.87 453.30,236.83 454.30,236.79 455.30,236.77 456.30,236.75 457.30,236.74 458.30,236.75 459.30,236.77 460.30,236.80 461.30,236.84 462.30,236.90 463.30,236.96 464.30,237.04 465.30,237.12 466.30,237.22 467.30,237.33 468.30,237.44 469.30,237.56 470.30,237.68 471.30,237.82 472.30,237.95 473.30,238.10 474.30,238.25 475.30,238.40 476.30,238.56 477.30,238.72 478.30,238.89 479.30,239.06 480.30,239.24 481.30,239.42 482.30,239.61 483.30,239.80 484.30,240.00 485.30,240.20 486.30,240.40 487.30,240.61 488.30,240.81 489.30,241.02 490.30,241.24 491.30,241.45 492.30,241.66 493.30,241.87 494.30,242.07 495.30,242.28 496.30,242.48 497.30,242.68 498.30,242.88 499.30,243.08 500.30,243.28 501.30,243.49 502.30,243.70 503.30,243.91 504.30,244.13 505.30,244.36 506.30,244.61 507.30,244.86 508.30,245.12 509.30,245.38 510.30,245.66 511.30,245.93 512.30,246.21 513.30,246.48 514.30,246.75 515.30,247.00 516.30,247.24 517.30,247.46 518.30,247.66 519.30,247.84 520.30,248.00 521.30,248.14 522.30,248.26 523.30,248.35 524.30,248.43 525.30,248.50 526.30,248.55 527.30,248.58 528.30,248.61 529.30,248.63 530.30,248.65 531.30,248.66 532.30,248.66 533.30,248.67 534.30,248.67 535.30,248.66 536.30,248.66 537.30,248.66 538.30,248.65 539.30,248.65 540.30,248.64 541.30,248.63 542.30,248.62 542.80,248.62" fill="none" stroke="#4646e6" stroke-width="1.1" stroke-linejoin="round" stroke-linecap="round"/>
<polyline points="375.30,237.60 376.30,237.61 377.30,237.62 378.30,237.63 379.30,237.64 380.30,237.65 381.30,237.66 382.30,237.66 383.30,237.67 384.30,237.68 385.30,237.69 386.30,237.70 387.30,237.71 388.30,237.71 389.30,237.72 390.30,237.73 391.30,237.73 392.30,237.74 393.30,237.75 394.30,237.75 395.30,237.76 396.30,237.77 397.30,237.77 398.30,237.78 399.30,237.79 400.30,237.80 401.30,237.81 402.30,237.82 403.30,237.83 404.30,237.84 405.30,237.85 406.30,237.86 407.30,237.87 408.30,237.88 409.30,237.89 410.30,237.90 411.30,237.91 412.30,237.92 413.30,237.92 414.30,237.93 415.30,237.93 416.30,237.93 417.30,237.92 418.30,237.92 419.30,237.92 420.30,237.91 421.30,237.90 422.30,237.89 423.30,237.88 424.30,237.87 425.30,237.85 426.30,237.84 427.30,237.82 428.30,237.80 429.30,237.79 430.30,237.77 431.30,237.75 432.30,237.72 433.30,237.70 434.30,237.67 435.30,237.65 436.30,237.62 437.30,237.58 438.30,237.55 439.30,237.52 440.30,237.48 441.30,237.43 442.30,237.39 443.30,237.34 444.30,237.29 445.30,237.23 446.30,237.16 447.30,237.09 448.30,237.01 449.30,236.92 450.30,236.81 451.30,236.70 452.30,236.56 453.30,236.41 454.30,236.24 455.30,236.04 456.30,235.81 457.30,235.54 458.30,235.24 459.30,234.89 460.30,234.49 461.30,234.03 462.30,233.50 463.30,232.90 464.30,232.22 465.30,231.45 466.30,230.58 467.30,229.61 468.30,228.53 469.30,227.34 470.30,226.03 471.30,224.60 472.30,223.05 473.30,221.38 474.30,219.59 475.30,217.69 476.30,215.68 477.30,213.59 478.30,211.42 479.30,209.19 480.30,206.92 481.30,204.65 482.30,202.39 483.30,200.19 484.30,198.08 485.30,196.10 486.30,194.29 487.30,192.70 488.30,191.38 489.30,190.35 490.30,189.67 491.30,189.34 492.30,189.40 493.30,189.85 494.30,190.66 495.30,191.83 496.30,193.32 497.30,195.10 498.30,197.11 499.30,199.32 500.30,201.68 501.30,204.16 502.30,206.71 503.30,209.29 504.30,211.89 505.30,214.47 506.30,217.00 507.30,219.48 508.30,221.87 509.30,224.17 510.30,226.37 511.30,228.45 512.30,230.40 513.30,232.23 514.30,233.92 515.30,235.47 516.30,236.89 517.30,238.18 518.30,239.34 519.30,240.38 520.30,241.30 521.30,242.11 522.30,242.82 523.30,243.44 524.30,243.98 525.30,244.44 526.30,244.84 527.30,245.19 528.30,245.48 529.30,245.74 530.30,245.96 531.30,246.15 532.30,246.31 533.30,246.45 534.30,246.58 535.30,246.69 536.30,246.78 537.30,246.87 538.30,246.95 539.30,247.02 540.30,247.08 541.30,247.14 542.30,247.19 542.80,247.21" fill="none" stroke="#3aa83a" stroke-width="1.1" stroke-linejoin="round" stroke-linecap="round"/>
<polyline points="375.30,237.89 376.30,237.91 377.30,237.92 378.30,237.94 379.30,237.95 380.30,237.97 381.30,237.98 382.30,238.00 383.30,238.01 384.30,238.03 385.30,238.04 386.30,238.06 387.30,238.07 388.30,238.08 389.30,238.10 390.30,238.11 391.30,238.13 392.30,238.14 393.30,238.15 394.30,238.17 395.30,238.18 396.30,238.20 397.30,238.22 398.30,238.23 399.30,238.25 400.30,238.27 401.30,238.29 402.30,238.31 403.30,238.33 404.30,238.35 405.30,238.38 406.30,238.40 407.30,238.42 408.30,238.45 409.30,238.47 410.30,238.49 411.30,238.52 412.30,238.54 413.30,238.56 414.30,238.58 415.30,238.59 416.30,238.61 417.30,238.63 418.30,238.64 419.30,238.65 420.30,238.67 421.30,238.68 422.30,238.69 423.30,238.70 424.30,238.71 425.30,238.72 426.30,238.73 427.30,238.75 428.30,238.76 429.30,238.77 430.30,238.78 431.30,238.79 432.30,238.80 433.30,238.81 434.30,238.82 435.30,238.83 436.30,238.84 437.30,238.85 438.30,238.87 439.30,238.88 440.30,238.89 441.30,238.90 442.30,238.91 443.30,238.93 444.30,238.94 445.30,238.95 446.30,238.97 447.30,238.98 448.30,239.00 449.30,239.01 450.30,239.03 451.30,239.04 452.30,239.06 453.30,239.08 454.30,239.09 455.30,239.11 456.30,239.13 457.30,239.15 458.30,239.17 459.30,239.19 460.30,239.22 461.30,239.24 462.30,239.26 463.30,239.29 464.30,239.32 465.30,239.35 466.30,239.39 467.30,239.42 468.30,239.46 469.30,239.50 470.30,239.55 471.30,239.60 472.30,239.66 473.30,239.72 474.30,239.79 475.30,239.86 476.30,239.94 477.30,240.02 478.30,240.11 479.30,240.21 480.30,240.32 481.30,240.43 482.30,240.54 483.30,240.67 484.30,240.79 485.30,240.91 486.30,241.03 487.30,241.13 488.30,241.20 489.30,241.23 490.30,241.20 491.30,241.08 492.30,240.84 493.30,240.43 494.30,239.80 495.30,238.89 496.30,237.64 497.30,235.99 498.30,233.87 499.30,231.23 500.30,228.05 501.30,224.30 502.30,220.02 503.30,215.27 504.30,210.17 505.30,204.85 506.30,199.52 507.30,194.39 508.30,189.70 509.30,185.69 510.30,182.57 511.30,180.52 512.30,179.67 513.30,180.08 514.30,181.73 515.30,184.55 516.30,188.38 517.30,193.04 518.30,198.29 519.30,203.90 520.30,209.63 521.30,215.27 522.30,220.63 523.30,225.57 524.30,230.01 525.30,233.88 526.30,237.17 527.30,239.90 528.30,242.12 529.30,243.87 530.30,245.23 531.30,246.25 532.30,247.01 533.30,247.56 534.30,247.94 535.30,248.21 536.30,248.39 537.30,248.51 538.30,248.58 539.30,248.63 540.30,248.65 541.30,248.66 542.30,248.67 542.80,248.66" fill="none" stroke="#ff3cf0" stroke-width="1.1" stroke-linejoin="round" stroke-linecap="round"/>
<polyline points="375.30,237.89 376.30,237.91 377.30,237.92 378.30,237.94 379.30,237.95 380.30,237.97 381.30,237.98 382.30,238.00 383.30,238.01 384.30,238.03 385.30,238.04 386.30,238.06 387.30,238.07 388.30,238.08 389.30,238.10 390.30,238.11 391.30,238.13 392.30,238.14 393.30,238.16 394.30,238.17 395.30,238.19 396.30,238.20 397.30,238.22 398.30,238.23 399.30,238.25 400.30,238.27 401.30,238.29 402.30,238.31 403.30,238.33 404.30,238.35 405.30,238.38 406.30,238.40 407.30,238.42 408.30,238.45 409.30,238.47 410.30,238.49 411.30,238.52 412.30,238.54 413.30,238.56 414.30,238.58 415.30,238.59 416.30,238.61 417.30,238.63 418.30,238.64 419.30,238.66 420.30,238.67 421.30,238.68 422.30,238.69 423.30,238.70 424.30,238.71 425.30,238.73 426.30,238.74 427.30,238.75 428.30,238.76 429.30,238.77 430.30,238.78 431.30,238.79 432.30,238.80 433.30,238.81 434.30,238.82 435.30,238.83 436.30,238.84 437.30,238.86 438.30,238.87 439.30,238.88 440.30,238.89 441.30,238.90 442.30,238.92 443.30,238.93 444.30,238.94 445.30,238.96 446.30,238.97 447.30,238.98 448.30,239.00 449.30,239.01 450.30,239.03 451.30,239.04 452.30,239.06 453.30,239.08 454.30,239.10 455.30,239.11 456.30,239.13 457.30,239.15 458.30,239.17 459.30,239.20 460.30,239.22 461.30,239.24 462.30,239.27 463.30,239.30 464.30,239.33 465.30,239.36 466.30,239.39 467.30,239.43 468.30,239.47 469.30,239.51 470.30,239.56 471.30,239.61 472.30,239.66 473.30,239.73 474.30,239.79 475.30,239.86 476.30,239.94 477.30,240.03 478.30,240.12 479.30,240.22 480.30,240.33 481.30,240.44 482.30,240.56 483.30,240.69 484.30,240.83 485.30,240.98 486.30,241.13 487.30,241.28 488.30,241.45 489.30,241.61 490.30,241.79 491.30,241.96 492.30,242.14 493.30,242.31 494.30,242.49 495.30,242.67 496.30,242.85 497.30,243.02 498.30,243.20 499.30,243.38 500.30,243.57 501.30,243.76 502.30,243.95 503.30,244.15 504.30,244.36 505.30,244.58 506.30,244.81 507.30,245.05 508.30,245.30 509.30,245.56 510.30,245.83 511.30,246.10 512.30,246.37 513.30,246.64 514.30,246.89 515.30,247.14 516.30,247.38 517.30,247.59 518.30,247.79 519.30,247.97 520.30,248.12 521.30,248.25 522.30,248.37 523.30,248.46 524.30,248.54 525.30,248.60 526.30,248.65 527.30,248.68 528.30,248.71 529.30,248.73 530.30,248.74 531.30,248.74 532.30,248.75 533.30,248.75 534.30,248.75 535.30,248.74 536.30,248.74 537.30,248.73 538.30,248.72 539.30,248.72 540.30,248.71 541.30,248.70 542.30,248.69 542.80,248.69" fill="none" stroke="#4646e6" stroke-width="1.1" stroke-linejoin="round" stroke-linecap="round"/>
<polyline points="375.30,236.95 376.30,236.88 377.30,236.72 378.30,236.51 379.30,236.38 380.30,236.47 381.30,236.81 382.30,237.27 383.30,237.56 384.30,237.47 385.30,236.98 386.30,236.37 387.30,236.01 388.30,236.06 389.30,236.34 390.30,236.53 391.30,236.48 392.30,236.26 393.30,236.11 394.30,236.28 395.30,236.68 396.30,236.96 397.30,236.86 398.30,236.53 399.30,236.19 400.30,235.85 401.30,235.37 402.30,234.83 403.30,234.51 404.30,234.59 405.30,234.91 406.30,235.10 407.30,234.88 408.30,234.38 409.30,233.99 410.30,233.98 411.30,234.35 412.30,234.92 413.30,235.46 414.30,235.79 415.30,235.76 416.30,235.37 417.30,234.84 418.30,234.47 419.30,234.42 420.30,234.72 421.30,235.26 422.30,235.79 423.30,236.04 424.30,235.94 425.30,235.72 426.30,235.67 427.30,235.86 428.30,236.12 429.30,236.34 430.30,236.55 431.30,236.73 432.30,236.79 433.30,236.72 434.30,236.61 435.30,236.56 436.30,236.50 437.30,236.32 438.30,236.09 439.30,236.05 440.30,236.28 441.30,236.55 442.30,236.50 443.30,236.03 444.30,235.39 445.30,234.89 446.30,234.65 447.30,234.55 448.30,234.52 449.30,234.55 450.30,234.53 451.30,234.33 452.30,233.93 453.30,233.49 454.30,233.28 455.30,233.49 456.30,234.05 457.30,234.61 458.30,234.68 459.30,234.11 460.30,233.09 461.30,231.99 462.30,231.07 463.30,230.46 464.30,230.13 465.30,229.83 466.30,229.25 467.30,228.32 468.30,227.18 469.30,225.93 470.30,224.50 471.30,222.85 472.30,221.08 473.30,219.40 474.30,217.85 475.30,216.22 476.30,214.31 477.30,212.15 478.30,209.93 479.30,207.76 480.30,205.63 481.30,203.56 482.30,201.62 483.30,199.86 484.30,198.18 485.30,196.53 486.30,194.93 487.30,193.32 488.30,191.66 489.30,190.03 490.30,188.68 491.30,187.85 492.30,187.56 493.30,187.56 494.30,187.59 495.30,187.54 496.30,187.48 497.30,187.40 498.30,187.16 499.30,186.52 500.30,185.38 501.30,183.83 502.30,182.02 503.30,179.95 504.30,177.45 505.30,174.43 506.30,171.14 507.30,168.05 508.30,165.58 509.30,163.75 510.30,162.47 511.30,161.87 512.30,162.28 513.30,163.98 514.30,167.00 515.30,171.26 516.30,176.55 517.30,182.60 518.30,189.17 519.30,196.09 520.30,203.08 521.30,209.79 522.30,215.95 523.30,221.38 524.30,225.98 525.30,229.83 526.30,233.10 527.30,235.91 528.30,238.30 529.30,240.36 530.30,242.15 531.30,243.69 532.30,244.91 533.30,245.74 534.30,246.15 535.30,246.26 536.30,246.24 537.30,246.33 538.30,246.70 539.30,247.37 540.30,248.16 541.30,248.78 542.30,248.92 542.80,248.51" fill="none" stroke="#2a2020" stroke-width="0.8" stroke-linejoin="round" stroke-linecap="round"/>
<polyline points="375.30,237.53 376.30,237.54 377.30,237.55 378.30,237.56 379.30,237.56 380.30,237.57 381.30,237.58 382.30,237.58 383.30,237.59 384.30,237.59 385.30,237.59 386.30,237.59 387.30,237.58 388.30,237.56 389.30,237.53 390.30,237.49 391.30,237.43 392.30,237.35 393.30,237.25 394.30,237.11 395.30,236.94 396.30,236.74 397.30,236.49 398.30,236.22 399.30,235.92 400.30,235.60 401.30,235.28 402.30,234.96 403.30,234.67 404.30,234.42 405.30,234.22 406.30,234.09 407.30,234.03 408.30,234.06 409.30,234.16 410.30,234.34 411.30,234.57 412.30,234.85 413.30,235.16 414.30,235.48 415.30,235.79 416.30,236.09 417.30,236.37 418.30,236.60 419.30,236.81 420.30,236.97 421.30,237.09 422.30,237.18 423.30,237.24 424.30,237.27 425.30,237.28 426.30,237.27 427.30,237.25 428.30,237.21 429.30,237.16 430.30,237.11 431.30,237.04 432.30,236.97 433.30,236.90 434.30,236.82 435.30,236.73 436.30,236.64 437.30,236.54 438.30,236.44 439.30,236.33 440.30,236.22 441.30,236.10 442.30,235.98 443.30,235.85 444.30,235.71 445.30,235.57 446.30,235.42 447.30,235.27 448.30,235.11 449.30,234.94 450.30,234.76 451.30,234.57 452.30,234.37 453.30,234.16 454.30,233.93 455.30,233.69 456.30,233.42 457.30,233.13 458.30,232.81 459.30,232.46 460.30,232.06 461.30,231.62 462.30,231.12 463.30,230.56 464.30,229.92 465.30,229.21 466.30,228.41 467.30,227.51 468.30,226.50 469.30,225.39 470.30,224.16 471.30,222.81 472.30,221.34 473.30,219.75 474.30,218.04 475.30,216.22 476.30,214.29 477.30,212.27 478.30,210.18 479.30,208.02 480.30,205.82 481.30,203.61 482.30,201.42 483.30,199.27 484.30,197.20 485.30,195.25 486.30,193.46 487.30,191.87 488.30,190.50 489.30,189.38 490.30,188.53 491.30,187.95 492.30,187.63 493.30,187.51 494.30,187.55 495.30,187.66 496.30,187.75 497.30,187.72 498.30,187.46 499.30,186.87 500.30,185.88 501.30,184.44 502.30,182.53 503.30,180.18 504.30,177.47 505.30,174.52 506.30,171.50 507.30,168.62 508.30,166.08 509.30,164.12 510.30,162.94 511.30,162.70 512.30,163.55 513.30,165.52 514.30,168.61 515.30,172.74 516.30,177.76 517.30,183.50 518.30,189.72 519.30,196.19 520.30,202.69 521.30,209.01 522.30,214.97 523.30,220.44 524.30,225.34 525.30,229.62 526.30,233.27 527.30,236.31 528.30,238.80 529.30,240.79 530.30,242.36 531.30,243.57 532.30,244.49 533.30,245.18 534.30,245.70 535.30,246.08 536.30,246.36 537.30,246.57 538.30,246.73 539.30,246.85 540.30,246.95 541.30,247.03 542.30,247.09 542.80,247.12" fill="none" stroke="#e23a36" stroke-width="1.0" stroke-linejoin="round" stroke-linecap="round"/>
<text x="415.50" y="225.60" text-anchor="start" font-size="6.3" fill="#222" class="h">-NO</text>
<line x1="418.20" y1="227.40" x2="409.30" y2="234.83" stroke="#111" stroke-width="0.7"/>
<polygon points="407.30,236.50 408.60,234.00 410.00,235.67" fill="#111"/>
<text x="448.00" y="219.00" text-anchor="start" font-size="6.3" fill="#222" class="h">-N-</text>
<line x1="452.60" y1="223.00" x2="450.81" y2="234.23" stroke="#111" stroke-width="0.7"/>
<polygon points="450.40,236.80 449.73,234.06 451.89,234.40" fill="#111"/>
<text x="464.70" y="194.00" text-anchor="start" font-size="6.3" fill="#222" class="h">-NH-</text>
<line x1="471.70" y1="195.20" x2="483.96" y2="210.28" stroke="#111" stroke-width="0.7"/>
<polygon points="485.60,212.30 483.11,210.97 484.81,209.59" fill="#111"/>
<text x="525.30" y="187.30" text-anchor="start" font-size="6.3" fill="#222" class="h">-NH<tspan font-size="3.8" dy="1.2">2</tspan></text>
<line x1="530.80" y1="189.40" x2="516.43" y2="205.56" stroke="#111" stroke-width="0.7"/>
<polygon points="514.70,207.50 515.61,204.83 517.24,206.28" fill="#111"/>
<polyline points="8.70,374.46 9.70,374.33 10.70,374.19 11.70,374.04 12.70,373.87 13.70,373.70 14.70,373.51 15.70,373.31 16.70,373.10 17.70,372.88 18.70,372.65 19.70,372.41 20.70,372.17 21.70,371.92 22.70,371.67 23.70,371.43 24.70,371.18 25.70,370.93 26.70,370.70 27.70,370.47 28.70,370.25 29.70,370.04 30.70,369.85 31.70,369.68 32.70,369.52 33.70,369.39 34.70,369.28 35.70,369.19 36.70,369.13 37.70,369.10 38.70,369.10 39.70,369.12 40.70,369.17 41.70,369.25 42.70,369.35 43.70,369.48 44.70,369.63 45.70,369.81 46.70,370.01 47.70,370.23 48.70,370.46 49.70,370.71 50.70,370.98 51.70,371.25 52.70,371.54 53.70,371.83 54.70,372.12 55.70,372.42 56.70,372.71 57.70,373.01 58.70,373.30 59.70,373.58 60.70,373.86 61.70,374.14 62.70,374.40 63.70,374.66 64.70,374.90 65.70,375.14 66.70,375.37 67.70,375.59 68.70,375.79 69.70,375.99 70.70,376.19 71.70,376.37 72.70,376.54 73.70,376.71 74.70,376.87 75.70,377.03 76.70,377.18 77.70,377.32 78.70,377.47 79.70,377.61 80.70,377.74 81.70,377.88 82.70,378.01 83.70,378.14 84.70,378.27 85.70,378.40 86.70,378.53 87.70,378.67 88.70,378.80 89.70,378.93 90.70,379.06 91.70,379.20 92.70,379.33 93.70,379.47 94.70,379.61 95.70,379.75 96.70,379.89 97.70,380.03 98.70,380.17 99.70,380.31 100.70,380.46 101.70,380.60 102.70,380.75 103.70,380.89 104.70,381.04 105.70,381.19 106.70,381.34 107.70,381.49 108.70,381.64 109.70,381.79 110.70,381.94 111.70,382.09 112.70,382.24 113.70,382.40 114.70,382.55 115.70,382.70 116.70,382.85 117.70,383.01 118.70,383.16 119.70,383.31 120.70,383.46 121.70,383.61 122.70,383.76 123.70,383.91 124.70,384.06 125.70,384.20 126.70,384.34 127.70,384.48 128.70,384.62 129.70,384.75 130.70,384.87 131.70,385.00 132.70,385.12 133.70,385.23 134.70,385.34 135.70,385.44 136.70,385.54 137.70,385.63 138.70,385.72 139.70,385.80 140.70,385.88 141.70,385.95 142.70,386.01 143.70,386.07 144.70,386.13 145.70,386.18 146.70,386.22 147.70,386.26 148.70,386.30 149.70,386.33 150.70,386.36 151.70,386.39 152.70,386.41 153.70,386.43 154.70,386.44 155.70,386.46 156.70,386.47 157.70,386.48 158.70,386.49 159.70,386.49 160.70,386.50 161.70,386.50 162.70,386.50 163.70,386.50 164.70,386.51 165.70,386.50 166.70,386.50 167.70,386.50 168.70,386.50 169.70,386.50 170.70,386.49 171.70,386.49 172.70,386.49 173.70,386.48 174.70,386.48 175.70,386.47 176.20,386.47" fill="none" stroke="#4646e6" stroke-width="1.1" stroke-linejoin="round" stroke-linecap="round"/>
<polyline points="8.70,375.19 9.70,375.19 10.70,375.18 11.70,375.18 12.70,375.17 13.70,375.16 14.70,375.15 15.70,375.14 16.70,375.13 17.70,375.12 18.70,375.10 19.70,375.08 20.70,375.06 21.70,375.03 22.70,375.00 23.70,374.96 24.70,374.92 25.70,374.88 26.70,374.82 27.70,374.76 28.70,374.69 29.70,374.61 30.70,374.52 31.70,374.42 32.70,374.31 33.70,374.18 34.70,374.04 35.70,373.88 36.70,373.71 37.70,373.51 38.70,373.29 39.70,373.05 40.70,372.78 41.70,372.48 42.70,372.16 43.70,371.80 44.70,371.41 45.70,370.99 46.70,370.53 47.70,370.03 48.70,369.48 49.70,368.89 50.70,368.26 51.70,367.58 52.70,366.85 53.70,366.06 54.70,365.23 55.70,364.34 56.70,363.39 57.70,362.39 58.70,361.33 59.70,360.21 60.70,359.04 61.70,357.80 62.70,356.52 63.70,355.17 64.70,353.77 65.70,352.32 66.70,350.82 67.70,349.27 68.70,347.68 69.70,346.04 70.70,344.37 71.70,342.67 72.70,340.94 73.70,339.18 74.70,337.41 75.70,335.63 76.70,333.85 77.70,332.07 78.70,330.31 79.70,328.56 80.70,326.84 81.70,325.15 82.70,323.51 83.70,321.91 84.70,320.38 85.70,318.91 86.70,317.52 87.70,316.21 88.70,315.00 89.70,313.88 90.70,312.87 91.70,311.97 92.70,311.19 93.70,310.54 94.70,310.02 95.70,309.63 96.70,309.37 97.70,309.26 98.70,309.28 99.70,309.45 100.70,309.76 101.70,310.21 102.70,310.80 103.70,311.52 104.70,312.38 105.70,313.36 106.70,314.46 107.70,315.67 108.70,317.00 109.70,318.43 110.70,319.95 111.70,321.56 112.70,323.24 113.70,325.00 114.70,326.82 115.70,328.69 116.70,330.60 117.70,332.55 118.70,334.53 119.70,336.53 120.70,338.54 121.70,340.56 122.70,342.57 123.70,344.57 124.70,346.56 125.70,348.52 126.70,350.45 127.70,352.34 128.70,354.20 129.70,356.01 130.70,357.77 131.70,359.48 132.70,361.13 133.70,362.72 134.70,364.26 135.70,365.73 136.70,367.14 137.70,368.48 138.70,369.76 139.70,370.97 140.70,372.12 141.70,373.21 142.70,374.23 143.70,375.19 144.70,376.10 145.70,376.94 146.70,377.73 147.70,378.46 148.70,379.14 149.70,379.77 150.70,380.35 151.70,380.89 152.70,381.38 153.70,381.84 154.70,382.26 155.70,382.64 156.70,382.99 157.70,383.30 158.70,383.59 159.70,383.85 160.70,384.09 161.70,384.30 162.70,384.50 163.70,384.67 164.70,384.83 165.70,384.97 166.70,385.09 167.70,385.21 168.70,385.31 169.70,385.40 170.70,385.48 171.70,385.55 172.70,385.61 173.70,385.67 174.70,385.71 175.70,385.76 176.20,385.78" fill="none" stroke="#3aa83a" stroke-width="1.1" stroke-linejoin="round" stroke-linecap="round"/>
<polyline points="8.70,375.58 9.70,375.59 10.70,375.60 11.70,375.60 12.70,375.61 13.70,375.62 14.70,375.63 15.70,375.65 16.70,375.66 17.70,375.67 18.70,375.68 19.70,375.69 20.70,375.71 21.70,375.72 22.70,375.73 23.70,375.75 24.70,375.76 25.70,375.78 26.70,375.79 27.70,375.81 28.70,375.83 29.70,375.84 30.70,375.86 31.70,375.88 32.70,375.90 33.70,375.92 34.70,375.94 35.70,375.96 36.70,375.98 37.70,376.00 38.70,376.02 39.70,376.05 40.70,376.07 41.70,376.09 42.70,376.11 43.70,376.14 44.70,376.16 45.70,376.19 46.70,376.21 47.70,376.24 48.70,376.27 49.70,376.29 50.70,376.32 51.70,376.35 52.70,376.38 53.70,376.41 54.70,376.44 55.70,376.47 56.70,376.51 57.70,376.54 58.70,376.58 59.70,376.61 60.70,376.65 61.70,376.69 62.70,376.74 63.70,376.78 64.70,376.83 65.70,376.88 66.70,376.93 67.70,376.99 68.70,377.04 69.70,377.10 70.70,377.16 71.70,377.23 72.70,377.29 73.70,377.36 74.70,377.43 75.70,377.50 76.70,377.57 77.70,377.64 78.70,377.72 79.70,377.79 80.70,377.86 81.70,377.92 82.70,377.98 83.70,378.04 84.70,378.08 85.70,378.11 86.70,378.13 87.70,378.14 88.70,378.12 89.70,378.07 90.70,378.00 91.70,377.89 92.70,377.74 93.70,377.55 94.70,377.31 95.70,377.01 96.70,376.64 97.70,376.21 98.70,375.71 99.70,375.12 100.70,374.44 101.70,373.68 102.70,372.82 103.70,371.87 104.70,370.82 105.70,369.67 106.70,368.43 107.70,367.09 108.70,365.67 109.70,364.18 110.70,362.62 111.70,361.00 112.70,359.34 113.70,357.66 114.70,355.98 115.70,354.30 116.70,352.67 117.70,351.09 118.70,349.58 119.70,348.18 120.70,346.90 121.70,345.76 122.70,344.78 123.70,343.98 124.70,343.36 125.70,342.95 126.70,342.75 127.70,342.77 128.70,343.00 129.70,343.45 130.70,344.11 131.70,344.96 132.70,346.01 133.70,347.24 134.70,348.62 135.70,350.14 136.70,351.78 137.70,353.52 138.70,355.33 139.70,357.20 140.70,359.10 141.70,361.00 142.70,362.90 143.70,364.78 144.70,366.61 145.70,368.38 146.70,370.08 147.70,371.69 148.70,373.22 149.70,374.66 150.70,375.99 151.70,377.23 152.70,378.36 153.70,379.39 154.70,380.33 155.70,381.17 156.70,381.92 157.70,382.58 158.70,383.17 159.70,383.69 160.70,384.13 161.70,384.52 162.70,384.85 163.70,385.14 164.70,385.38 165.70,385.58 166.70,385.75 167.70,385.89 168.70,386.00 169.70,386.10 170.70,386.18 171.70,386.24 172.70,386.29 173.70,386.33 174.70,386.36 175.70,386.38 176.20,386.39" fill="none" stroke="#ff3cf0" stroke-width="1.1" stroke-linejoin="round" stroke-linecap="round"/>
<polyline points="8.70,375.58 9.70,375.59 10.70,375.60 11.70,375.60 12.70,375.61 13.70,375.62 14.70,375.63 15.70,375.65 16.70,375.66 17.70,375.67 18.70,375.68 19.70,375.69 20.70,375.71 21.70,375.72 22.70,375.73 23.70,375.75 24.70,375.76 25.70,375.78 26.70,375.79 27.70,375.81 28.70,375.83 29.70,375.84 30.70,375.86 31.70,375.88 32.70,375.90 33.70,375.92 34.70,375.94 35.70,375.96 36.70,375.98 37.70,376.00 38.70,376.02 39.70,376.05 40.70,376.07 41.70,376.09 42.70,376.11 43.70,376.14 44.70,376.16 45.70,376.19 46.70,376.21 47.70,376.24 48.70,376.27 49.70,376.29 50.70,376.32 51.70,376.35 52.70,376.38 53.70,376.41 54.70,376.44 55.70,376.47 56.70,376.51 57.70,376.54 58.70,376.58 59.70,376.61 60.70,376.65 61.70,376.70 62.70,376.74 63.70,376.78 64.70,376.83 65.70,376.88 66.70,376.93 67.70,376.99 68.70,377.05 69.70,377.11 70.70,377.17 71.70,377.24 72.70,377.30 73.70,377.38 74.70,377.45 75.70,377.53 76.70,377.61 77.70,377.70 78.70,377.79 79.70,377.88 80.70,377.98 81.70,378.07 82.70,378.18 83.70,378.28 84.70,378.39 85.70,378.50 86.70,378.62 87.70,378.73 88.70,378.85 89.70,378.98 90.70,379.10 91.70,379.23 92.70,379.36 93.70,379.49 94.70,379.62 95.70,379.76 96.70,379.90 97.70,380.04 98.70,380.18 99.70,380.32 100.70,380.46 101.70,380.61 102.70,380.75 103.70,380.90 104.70,381.04 105.70,381.19 106.70,381.34 107.70,381.49 108.70,381.64 109.70,381.79 110.70,381.94 111.70,382.09 112.70,382.24 113.70,382.40 114.70,382.55 115.70,382.70 116.70,382.85 117.70,383.01 118.70,383.16 119.70,383.31 120.70,383.46 121.70,383.61 122.70,383.76 123.70,383.91 124.70,384.06 125.70,384.20 126.70,384.34 127.70,384.48 128.70,384.62 129.70,384.75 130.70,384.87 131.70,385.00 132.70,385.12 133.70,385.23 134.70,385.34 135.70,385.44 136.70,385.54 137.70,385.63 138.70,385.72 139.70,385.80 140.70,385.88 141.70,385.95 142.70,386.01 143.70,386.07 144.70,386.13 145.70,386.18 146.70,386.22 147.70,386.26 148.70,386.30 149.70,386.33 150.70,386.36 151.70,386.39 152.70,386.41 153.70,386.43 154.70,386.44 155.70,386.46 156.70,386.47 157.70,386.48 158.70,386.49 159.70,386.49 160.70,386.50 161.70,386.50 162.70,386.50 163.70,386.50 164.70,386.51 165.70,386.50 166.70,386.50 167.70,386.50 168.70,386.50 169.70,386.50 170.70,386.49 171.70,386.49 172.70,386.49 173.70,386.48 174.70,386.48 175.70,386.47 176.20,386.47" fill="none" stroke="#4646e6" stroke-width="1.1" stroke-linejoin="round" stroke-linecap="round"/>
<polyline points="8.70,374.46 9.70,374.32 10.70,373.92 11.70,373.28 12.70,372.47 13.70,371.61 14.70,370.97 15.70,370.84 16.70,371.15 17.70,371.56 18.70,371.75 19.70,371.53 20.70,370.97 21.70,370.33 22.70,369.89 23.70,369.65 24.70,369.30 25.70,368.73 26.70,368.21 27.70,368.00 28.70,367.95 29.70,367.78 30.70,367.45 31.70,367.07 32.70,366.66 33.70,366.19 34.70,365.79 35.70,365.72 36.70,366.01 37.70,366.39 38.70,366.59 39.70,366.51 40.70,366.25 41.70,365.95 42.70,365.72 43.70,365.53 44.70,365.25 45.70,364.81 46.70,364.30 47.70,363.88 48.70,363.56 49.70,363.21 50.70,362.72 51.70,362.13 52.70,361.62 53.70,361.25 54.70,360.92 55.70,360.45 56.70,359.71 57.70,358.66 58.70,357.41 59.70,356.20 60.70,355.13 61.70,354.10 62.70,352.97 63.70,351.65 64.70,350.21 65.70,348.85 66.70,347.79 67.70,346.96 68.70,346.09 69.70,344.91 70.70,343.39 71.70,341.73 72.70,340.10 73.70,338.49 74.70,336.66 75.70,334.53 76.70,332.34 77.70,330.43 78.70,328.76 79.70,327.16 80.70,325.60 81.70,324.22 82.70,323.04 83.70,321.87 84.70,320.46 85.70,318.70 86.70,316.75 87.70,314.89 88.70,313.35 89.70,312.11 90.70,310.99 91.70,309.77 92.70,308.43 93.70,307.15 94.70,306.25 95.70,305.83 96.70,305.66 97.70,305.31 98.70,304.62 99.70,303.73 100.70,302.87 101.70,302.16 102.70,301.71 103.70,301.64 104.70,301.84 105.70,302.03 106.70,301.99 107.70,301.69 108.70,301.19 109.70,300.59 110.70,300.06 111.70,299.81 112.70,299.98 113.70,300.44 114.70,300.82 115.70,300.84 116.70,300.61 117.70,300.46 118.70,300.63 119.70,301.14 120.70,301.88 121.70,302.72 122.70,303.61 123.70,304.60 124.70,305.72 125.70,306.98 126.70,308.40 127.70,310.00 128.70,311.74 129.70,313.59 130.70,315.61 131.70,317.94 132.70,320.52 133.70,323.25 134.70,326.11 135.70,329.19 136.70,332.53 137.70,335.96 138.70,339.18 139.70,341.97 140.70,344.43 141.70,346.95 142.70,349.81 143.70,352.95 144.70,356.06 145.70,358.90 146.70,361.38 147.70,363.51 148.70,365.39 149.70,367.15 150.70,368.91 151.70,370.73 152.70,372.46 153.70,373.81 154.70,374.61 155.70,375.22 156.70,376.17 157.70,377.58 158.70,379.07 159.70,380.30 160.70,381.23 161.70,382.04 162.70,382.84 163.70,383.59 164.70,384.15 165.70,384.47 166.70,384.59 167.70,384.61 168.70,384.68 169.70,384.84 170.70,385.15 171.70,385.66 172.70,386.31 173.70,386.81 174.70,386.91 175.70,386.62 176.20,386.17" fill="none" stroke="#2a2020" stroke-width="0.8" stroke-linejoin="round" stroke-linecap="round"/>
<polyline points="8.70,374.08 9.70,373.93 10.70,373.78 11.70,373.61 12.70,373.43 13.70,373.23 14.70,373.03 15.70,372.80 16.70,372.57 17.70,372.32 18.70,372.07 19.70,371.80 20.70,371.52 21.70,371.23 22.70,370.94 23.70,370.64 24.70,370.34 25.70,370.03 26.70,369.72 27.70,369.42 28.70,369.11 29.70,368.81 30.70,368.51 31.70,368.22 32.70,367.93 33.70,367.65 34.70,367.38 35.70,367.12 36.70,366.86 37.70,366.61 38.70,366.36 39.70,366.12 40.70,365.88 41.70,365.64 42.70,365.39 43.70,365.14 44.70,364.89 45.70,364.61 46.70,364.32 47.70,364.01 48.70,363.68 49.70,363.31 50.70,362.92 51.70,362.48 52.70,362.00 53.70,361.48 54.70,360.91 55.70,360.28 56.70,359.60 57.70,358.85 58.70,358.05 59.70,357.18 60.70,356.24 61.70,355.24 62.70,354.18 63.70,353.04 64.70,351.84 65.70,350.58 66.70,349.25 67.70,347.86 68.70,346.42 69.70,344.92 70.70,343.38 71.70,341.79 72.70,340.16 73.70,338.50 74.70,336.81 75.70,335.10 76.70,333.37 77.70,331.64 78.70,329.91 79.70,328.19 80.70,326.48 81.70,324.80 82.70,323.14 83.70,321.53 84.70,319.95 85.70,318.43 86.70,316.96 87.70,315.55 88.70,314.20 89.70,312.93 90.70,311.73 91.70,310.60 92.70,309.55 93.70,308.58 94.70,307.68 95.70,306.86 96.70,306.11 97.70,305.42 98.70,304.81 99.70,304.25 100.70,303.74 101.70,303.28 102.70,302.87 103.70,302.49 104.70,302.15 105.70,301.83 106.70,301.55 107.70,301.28 108.70,301.04 109.70,300.82 110.70,300.62 111.70,300.46 112.70,300.34 113.70,300.26 114.70,300.24 115.70,300.29 116.70,300.41 117.70,300.63 118.70,300.96 119.70,301.40 120.70,301.98 121.70,302.70 122.70,303.59 123.70,304.64 124.70,305.86 125.70,307.27 126.70,308.86 127.70,310.63 128.70,312.58 129.70,314.71 130.70,317.00 131.70,319.44 132.70,322.03 133.70,324.73 134.70,327.54 135.70,330.43 136.70,333.38 137.70,336.37 138.70,339.37 139.70,342.37 140.70,345.34 141.70,348.27 142.70,351.12 143.70,353.90 144.70,356.57 145.70,359.14 146.70,361.58 147.70,363.89 148.70,366.06 149.70,368.10 150.70,369.99 151.70,371.73 152.70,373.34 153.70,374.81 154.70,376.14 155.70,377.35 156.70,378.44 157.70,379.41 158.70,380.28 159.70,381.05 160.70,381.73 161.70,382.32 162.70,382.85 163.70,383.30 164.70,383.70 165.70,384.04 166.70,384.34 167.70,384.59 168.70,384.81 169.70,385.00 170.70,385.16 171.70,385.29 172.70,385.41 173.70,385.51 174.70,385.59 175.70,385.66 176.20,385.69" fill="none" stroke="#e23a36" stroke-width="1.0" stroke-linejoin="round" stroke-linecap="round"/>
<text x="12.50" y="358.50" text-anchor="start" font-size="6.3" fill="#222" class="h">C=O</text>
<line x1="18.30" y1="359.90" x2="24.52" y2="370.94" stroke="#111" stroke-width="0.7"/>
<polygon points="25.80,373.20 23.57,371.47 25.47,370.40" fill="#111"/>
<text x="69.30" y="312.00" text-anchor="start" font-size="6.3" fill="#222" class="h">C-O</text>
<line x1="75.70" y1="313.50" x2="88.62" y2="330.43" stroke="#111" stroke-width="0.7"/>
<polygon points="90.20,332.50 87.75,331.10 89.49,329.77" fill="#111"/>
<text x="149.80" y="339.00" text-anchor="start" font-size="6.3" fill="#222" class="h">-OH</text>
<line x1="148.50" y1="340.00" x2="135.30" y2="351.03" stroke="#111" stroke-width="0.7"/>
<polygon points="133.30,352.70 134.60,350.19 136.00,351.87" fill="#111"/>
<path d="M193.00,356.80 C194.58,356.83 199.68,356.73 202.50,357.00 C205.32,357.27 207.60,357.73 209.90,358.40 C212.20,359.07 214.18,359.87 216.30,361.00 C218.42,362.13 219.70,363.32 222.60,365.20 C225.50,367.08 230.27,370.72 233.70,372.30 C237.13,373.88 239.40,374.23 243.20,374.70 C247.00,375.17 252.12,374.97 256.50,375.10 C260.88,375.23 264.17,375.02 269.50,375.50 C274.83,375.98 282.17,377.27 288.50,378.00 C294.83,378.73 302.43,379.27 307.50,379.90 C312.57,380.53 315.73,381.02 318.90,381.80 C322.07,382.58 323.65,383.50 326.50,384.60 C329.35,385.70 333.48,387.53 336.00,388.40 C338.52,389.27 338.73,389.52 341.60,389.80 C344.47,390.08 350.27,390.02 353.20,390.10 C356.13,390.18 358.20,390.27 359.20,390.30" fill="none" stroke="#5aa8e0" stroke-width="1.2" stroke-linejoin="round" stroke-linecap="round"/>
<path d="M193.00,355.50 C193.62,355.28 195.12,354.07 196.70,354.20 C198.28,354.33 200.65,356.48 202.50,356.30 C204.35,356.12 206.03,354.77 207.80,353.10 C209.57,351.43 211.52,349.02 213.10,346.30 C214.68,343.58 216.10,339.10 217.30,336.80 C218.50,334.50 219.33,332.50 220.30,332.50 C221.27,332.50 222.20,334.87 223.10,336.80 C224.00,338.73 224.73,342.35 225.70,344.10 C226.67,345.85 227.83,346.42 228.90,347.30 C229.97,348.18 231.05,348.35 232.10,349.40 C233.15,350.45 234.15,350.83 235.20,353.60 C236.25,356.37 237.07,362.88 238.40,366.00 C239.73,369.12 241.45,370.85 243.20,372.30 C244.95,373.75 246.37,374.38 248.90,374.70 C251.43,375.02 255.92,374.60 258.40,374.20 C260.88,373.80 262.27,373.73 263.80,372.30 C265.33,370.87 266.33,367.98 267.60,365.60 C268.87,363.22 270.13,360.15 271.40,358.00 C272.67,355.85 273.93,353.58 275.20,352.70 C276.47,351.82 277.73,352.70 279.00,352.70 C280.27,352.70 281.22,352.28 282.80,352.70 C284.38,353.12 286.28,354.00 288.50,355.20 C290.72,356.40 293.88,358.30 296.10,359.90 C298.32,361.50 300.05,363.77 301.80,364.80 C303.55,365.83 304.98,366.40 306.60,366.10 C308.22,365.80 309.83,365.22 311.50,363.00 C313.17,360.78 315.05,357.27 316.60,352.80 C318.15,348.33 319.55,342.02 320.80,336.20 C322.05,330.38 323.27,322.43 324.10,317.90 C324.93,313.37 325.37,311.12 325.80,309.00 C326.23,306.88 326.40,306.05 326.70,305.20 C327.00,304.35 327.28,303.90 327.60,303.90 C327.92,303.90 328.22,304.25 328.60,305.20 C328.98,306.15 329.27,306.65 329.90,309.60 C330.53,312.55 331.70,318.88 332.40,322.90 C333.10,326.92 333.55,331.53 334.10,333.70 C334.65,335.87 334.97,335.82 335.70,335.90 C336.43,335.98 337.67,333.60 338.50,334.20 C339.33,334.80 340.05,336.67 340.70,339.50 C341.35,342.33 341.77,346.45 342.40,351.20 C343.03,355.95 343.82,363.45 344.50,368.00 C345.18,372.55 345.83,375.80 346.50,378.50 C347.17,381.20 347.38,382.60 348.50,384.20 C349.62,385.80 351.42,387.12 353.20,388.10 C354.98,389.08 358.20,389.77 359.20,390.10" fill="none" stroke="#c9a35c" stroke-width="1.2" stroke-linejoin="round" stroke-linecap="round"/>
<text x="211.50" y="330.60" text-anchor="start" font-size="6.3" fill="#222" class="h">Cu2p<tspan font-size="4.3" dy="1.3">1/2</tspan></text>
<text x="319.50" y="301.00" text-anchor="start" font-size="6.3" fill="#222" class="h">Cu2p<tspan font-size="4.3" dy="1.3">3/2</tspan></text>
<path d="M375.50,373.50 C379.25,373.67 390.58,374.12 398.00,374.50 C405.42,374.88 413.00,375.25 420.00,375.80 C427.00,376.35 434.48,377.08 440.00,377.80 C445.52,378.52 447.65,379.50 453.10,380.10 C458.55,380.70 467.38,381.08 472.70,381.40 C478.02,381.72 481.75,381.68 485.00,382.00 C488.25,382.32 489.82,382.87 492.20,383.30 C494.58,383.73 496.22,383.90 499.30,384.60 C502.38,385.30 506.92,386.83 510.70,387.50 C514.48,388.17 516.85,388.45 522.00,388.60 C527.15,388.75 538.33,388.43 541.60,388.40" fill="none" stroke="#5050ee" stroke-width="1.2" stroke-linejoin="round" stroke-linecap="round"/>
<path d="M375.50,373.30 C377.10,372.90 381.33,371.78 385.10,370.90 C388.87,370.02 393.75,369.63 398.10,368.00 C402.45,366.37 407.50,363.67 411.20,361.10 C414.90,358.53 417.85,355.40 420.30,352.60 C422.75,349.80 423.97,348.15 425.90,344.30 C427.83,340.45 430.12,334.15 431.90,329.50 C433.68,324.85 435.07,319.73 436.60,316.40 C438.13,313.07 439.62,309.50 441.10,309.50 C442.58,309.50 444.27,313.07 445.50,316.40 C446.73,319.73 447.50,324.85 448.50,329.50 C449.50,334.15 450.30,339.03 451.50,344.30 C452.70,349.57 454.13,357.10 455.70,361.10 C457.27,365.10 459.17,367.22 460.90,368.30 C462.63,369.38 464.13,368.25 466.10,367.60 C468.07,366.95 470.52,365.58 472.70,364.40 C474.88,363.22 477.25,362.35 479.20,360.50 C481.15,358.65 482.67,356.03 484.40,353.30 C486.13,350.57 487.52,348.97 489.60,344.10 C491.68,339.23 494.90,330.02 496.90,324.10 C498.90,318.18 500.07,312.27 501.60,308.60 C503.13,304.93 504.70,302.10 506.10,302.10 C507.50,302.10 508.97,304.93 510.00,308.60 C511.03,312.27 511.52,318.65 512.30,324.10 C513.08,329.55 514.02,337.10 514.70,341.30 C515.38,345.50 515.65,345.37 516.40,349.30 C517.15,353.23 518.02,359.92 519.20,364.90 C520.38,369.88 522.07,375.87 523.50,379.20 C524.93,382.53 525.90,383.48 527.80,384.90 C529.70,386.32 532.60,387.12 534.90,387.70 C537.20,388.28 540.48,388.28 541.60,388.40" fill="none" stroke="#ff50f5" stroke-width="1.2" stroke-linejoin="round" stroke-linecap="round"/>
<text x="430.10" y="307.50" text-anchor="start" font-size="6.3" fill="#222" class="h">Pb4f <tspan font-size="4.3" dy="1.3">5/2</tspan></text>
<text x="496.90" y="299.70" text-anchor="start" font-size="6.3" fill="#222" class="h">Pb4f <tspan font-size="4.3" dy="1.3">7/2</tspan></text>
</svg></body></html>
